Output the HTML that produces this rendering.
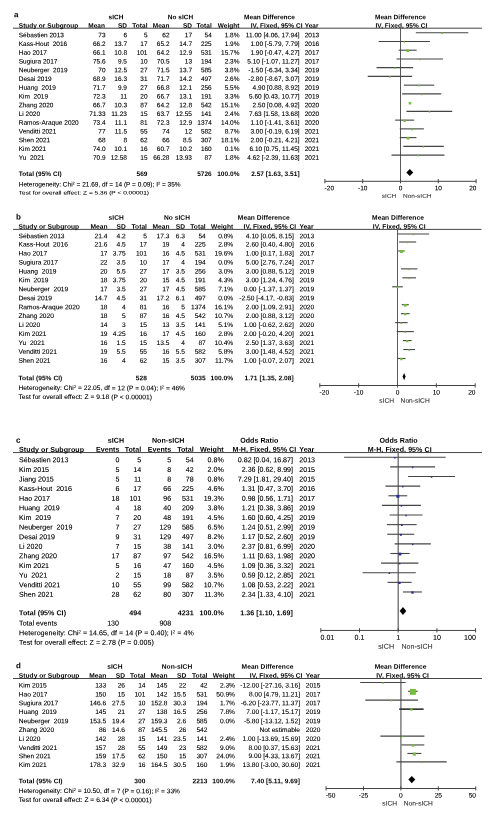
<!DOCTYPE html>
<html lang="en">
<head>
<meta charset="utf-8">
<title>Forest plots: sICH vs Non-sICH</title>
<style>
html,body{margin:0;padding:0;background:#fff;}
body{width:496px;height:824px;position:relative;overflow:hidden;font-family:"Liberation Sans",Arial,Helvetica,sans-serif;color:#000;}
#fig{position:absolute;left:0;top:0;width:496px;height:824px;overflow:hidden;}
#fig svg{position:absolute;left:0;top:0;}
.t{position:absolute;left:0;top:0;white-space:pre;line-height:10px;transform-origin:0 0;text-rendering:geometricPrecision;text-shadow:0 0 0.3px rgba(0,0,0,0.4);}
.b{font-weight:bold;text-shadow:none;letter-spacing:0.04px;}
.sup{font-size:60%;position:relative;top:-0.42em;line-height:1;}
</style>
</head>
<body>
<div id="fig">
<svg width="496" height="824" viewBox="0 0 496 824">
<line x1="13.00" y1="28.20" x2="482.00" y2="28.20" stroke="#3c3c3c" stroke-width="0.95"/>
<line x1="400.50" y1="28.20" x2="400.50" y2="181.30" stroke="#505050" stroke-width="0.95"/>
<line x1="324.90" y1="181.30" x2="476.10" y2="181.30" stroke="#444" stroke-width="1.00"/>
<line x1="324.90" y1="179.10" x2="324.90" y2="183.30" stroke="#444" stroke-width="1.00"/>
<line x1="362.70" y1="179.10" x2="362.70" y2="183.30" stroke="#444" stroke-width="1.00"/>
<line x1="400.50" y1="179.10" x2="400.50" y2="183.30" stroke="#444" stroke-width="1.00"/>
<line x1="438.30" y1="179.10" x2="438.30" y2="183.30" stroke="#444" stroke-width="1.00"/>
<line x1="476.10" y1="179.10" x2="476.10" y2="183.30" stroke="#444" stroke-width="1.00"/>
<line x1="415.85" y1="32.70" x2="468.31" y2="32.70" stroke="#444" stroke-width="1.10"/>
<rect x="441.35" y="32.52" width="1.45" height="1.45" fill="#76bd3a"/>
<line x1="378.61" y1="41.44" x2="429.95" y2="41.44" stroke="#444" stroke-width="1.10"/>
<rect x="403.55" y="41.27" width="1.45" height="1.45" fill="#76bd3a"/>
<line x1="398.72" y1="50.19" x2="416.64" y2="50.19" stroke="#444" stroke-width="1.10"/>
<rect x="406.39" y="49.45" width="2.58" height="2.58" fill="#76bd3a"/>
<line x1="396.46" y1="58.93" x2="443.10" y2="58.93" stroke="#444" stroke-width="1.10"/>
<rect x="419.05" y="58.75" width="1.45" height="1.45" fill="#76bd3a"/>
<line x1="376.53" y1="67.67" x2="413.13" y2="67.67" stroke="#444" stroke-width="1.10"/>
<rect x="394.10" y="67.50" width="1.45" height="1.45" fill="#76bd3a"/>
<line x1="367.73" y1="76.42" x2="412.10" y2="76.42" stroke="#444" stroke-width="1.10"/>
<rect x="389.19" y="76.24" width="1.45" height="1.45" fill="#76bd3a"/>
<line x1="403.83" y1="85.16" x2="434.22" y2="85.16" stroke="#444" stroke-width="1.10"/>
<rect x="418.26" y="84.95" width="1.52" height="1.52" fill="#76bd3a"/>
<line x1="402.13" y1="93.90" x2="441.21" y2="93.90" stroke="#444" stroke-width="1.10"/>
<rect x="420.94" y="93.73" width="1.45" height="1.45" fill="#76bd3a"/>
<rect x="408.69" y="101.93" width="2.53" height="2.53" fill="#76bd3a"/>
<line x1="406.47" y1="111.39" x2="452.21" y2="111.39" stroke="#444" stroke-width="1.10"/>
<rect x="428.62" y="111.21" width="1.45" height="1.45" fill="#76bd3a"/>
<line x1="395.17" y1="120.13" x2="414.15" y2="120.13" stroke="#444" stroke-width="1.10"/>
<rect x="403.44" y="119.46" width="2.43" height="2.43" fill="#76bd3a"/>
<line x1="399.78" y1="128.87" x2="423.90" y2="128.87" stroke="#444" stroke-width="1.10"/>
<rect x="410.88" y="128.46" width="1.92" height="1.92" fill="#76bd3a"/>
<line x1="399.71" y1="137.62" x2="416.41" y2="137.62" stroke="#444" stroke-width="1.10"/>
<rect x="406.68" y="136.78" width="2.77" height="2.77" fill="#76bd3a"/>
<line x1="403.33" y1="146.36" x2="443.78" y2="146.36" stroke="#444" stroke-width="1.10"/>
<rect x="422.83" y="146.18" width="1.45" height="1.45" fill="#76bd3a"/>
<line x1="391.47" y1="155.10" x2="444.46" y2="155.10" stroke="#444" stroke-width="1.10"/>
<rect x="417.24" y="154.93" width="1.45" height="1.45" fill="#76bd3a"/>
<polygon points="406.35,172.50 409.80,168.90 413.25,172.50 409.80,176.10" fill="#000"/>
<line x1="13.00" y1="229.40" x2="481.50" y2="229.40" stroke="#3c3c3c" stroke-width="0.95"/>
<line x1="397.50" y1="229.40" x2="397.50" y2="385.50" stroke="#484848" stroke-width="0.90"/>
<line x1="319.80" y1="385.50" x2="475.20" y2="385.50" stroke="#444" stroke-width="1.00"/>
<line x1="319.80" y1="383.30" x2="319.80" y2="387.50" stroke="#444" stroke-width="1.00"/>
<line x1="358.65" y1="383.30" x2="358.65" y2="387.50" stroke="#444" stroke-width="1.00"/>
<line x1="397.50" y1="383.30" x2="397.50" y2="387.50" stroke="#444" stroke-width="1.00"/>
<line x1="436.35" y1="383.30" x2="436.35" y2="387.50" stroke="#444" stroke-width="1.00"/>
<line x1="475.20" y1="383.30" x2="475.20" y2="387.50" stroke="#444" stroke-width="1.00"/>
<line x1="397.69" y1="234.00" x2="429.16" y2="234.00" stroke="#444" stroke-width="1.10"/>
<rect x="412.70" y="233.83" width="1.45" height="1.45" fill="#76bd3a"/>
<line x1="399.05" y1="242.00" x2="416.15" y2="242.00" stroke="#444" stroke-width="1.10"/>
<rect x="406.88" y="241.83" width="1.45" height="1.45" fill="#76bd3a"/>
<line x1="398.16" y1="250.96" x2="404.61" y2="250.96" stroke="#444" stroke-width="1.10"/>
<rect x="399.88" y="250.00" width="3.01" height="3.01" fill="#76bd3a"/>
<line x1="400.92" y1="268.88" x2="417.39" y2="268.88" stroke="#444" stroke-width="1.10"/>
<rect x="408.43" y="268.70" width="1.45" height="1.45" fill="#76bd3a"/>
<line x1="402.32" y1="277.84" x2="415.99" y2="277.84" stroke="#444" stroke-width="1.10"/>
<rect x="408.43" y="277.67" width="1.45" height="1.45" fill="#76bd3a"/>
<line x1="392.18" y1="286.80" x2="402.82" y2="286.80" stroke="#444" stroke-width="1.10"/>
<rect x="396.59" y="286.44" width="1.81" height="1.81" fill="#76bd3a"/>
<line x1="401.73" y1="304.72" x2="408.81" y2="304.72" stroke="#444" stroke-width="1.10"/>
<rect x="403.91" y="303.91" width="2.73" height="2.73" fill="#76bd3a"/>
<line x1="400.92" y1="313.68" x2="409.62" y2="313.68" stroke="#444" stroke-width="1.10"/>
<rect x="404.16" y="313.12" width="2.22" height="2.22" fill="#76bd3a"/>
<line x1="395.09" y1="322.64" x2="407.68" y2="322.64" stroke="#444" stroke-width="1.10"/>
<rect x="400.62" y="322.42" width="1.54" height="1.54" fill="#76bd3a"/>
<line x1="396.72" y1="331.60" x2="413.82" y2="331.60" stroke="#444" stroke-width="1.10"/>
<rect x="404.54" y="331.43" width="1.45" height="1.45" fill="#76bd3a"/>
<line x1="402.82" y1="340.56" x2="411.60" y2="340.56" stroke="#444" stroke-width="1.10"/>
<rect x="406.12" y="340.01" width="2.19" height="2.19" fill="#76bd3a"/>
<line x1="403.25" y1="349.52" x2="415.06" y2="349.52" stroke="#444" stroke-width="1.10"/>
<rect x="408.34" y="349.25" width="1.64" height="1.64" fill="#76bd3a"/>
<line x1="397.23" y1="358.48" x2="405.54" y2="358.48" stroke="#444" stroke-width="1.10"/>
<rect x="400.22" y="357.87" width="2.33" height="2.33" fill="#76bd3a"/>
<polygon points="402.60,376.60 404.10,372.90 405.60,376.60 404.10,380.30" fill="#000"/>
<line x1="13.00" y1="452.55" x2="482.00" y2="452.55" stroke="#3c3c3c" stroke-width="0.95"/>
<line x1="398.20" y1="452.55" x2="398.20" y2="630.45" stroke="#6a6a6a" stroke-width="1.30"/>
<line x1="320.80" y1="630.45" x2="475.60" y2="630.45" stroke="#444" stroke-width="1.00"/>
<line x1="320.80" y1="628.25" x2="320.80" y2="632.45" stroke="#444" stroke-width="1.00"/>
<line x1="359.50" y1="628.25" x2="359.50" y2="632.45" stroke="#444" stroke-width="1.00"/>
<line x1="398.20" y1="628.25" x2="398.20" y2="632.45" stroke="#444" stroke-width="1.00"/>
<line x1="436.90" y1="628.25" x2="436.90" y2="632.45" stroke="#444" stroke-width="1.00"/>
<line x1="475.60" y1="628.25" x2="475.60" y2="632.45" stroke="#444" stroke-width="1.00"/>
<line x1="344.10" y1="457.30" x2="445.69" y2="457.30" stroke="#444" stroke-width="1.10"/>
<rect x="394.14" y="457.12" width="1.45" height="1.45" fill="#2a2a9a"/>
<line x1="390.17" y1="466.92" x2="435.11" y2="466.92" stroke="#444" stroke-width="1.10"/>
<rect x="411.91" y="466.75" width="1.45" height="1.45" fill="#2a2a9a"/>
<line x1="408.17" y1="476.54" x2="455.03" y2="476.54" stroke="#444" stroke-width="1.10"/>
<rect x="430.86" y="476.37" width="1.45" height="1.45" fill="#2a2a9a"/>
<line x1="385.51" y1="486.16" x2="420.19" y2="486.16" stroke="#444" stroke-width="1.10"/>
<rect x="402.01" y="485.98" width="1.46" height="1.46" fill="#2a2a9a"/>
<line x1="388.45" y1="495.78" x2="407.22" y2="495.78" stroke="#444" stroke-width="1.10"/>
<rect x="396.37" y="494.84" width="2.99" height="2.99" fill="#2a2a9a"/>
<line x1="381.94" y1="505.40" x2="420.90" y2="505.40" stroke="#444" stroke-width="1.10"/>
<rect x="400.68" y="505.22" width="1.45" height="1.45" fill="#2a2a9a"/>
<line x1="389.61" y1="515.02" x2="422.52" y2="515.02" stroke="#444" stroke-width="1.10"/>
<rect x="405.37" y="514.84" width="1.45" height="1.45" fill="#2a2a9a"/>
<line x1="386.88" y1="524.64" x2="416.61" y2="524.64" stroke="#444" stroke-width="1.10"/>
<rect x="400.95" y="524.32" width="1.73" height="1.73" fill="#2a2a9a"/>
<line x1="387.21" y1="534.26" x2="414.26" y2="534.26" stroke="#444" stroke-width="1.10"/>
<rect x="399.87" y="533.84" width="1.95" height="1.95" fill="#2a2a9a"/>
<line x1="394.66" y1="543.88" x2="430.88" y2="543.88" stroke="#444" stroke-width="1.10"/>
<rect x="411.98" y="543.70" width="1.45" height="1.45" fill="#2a2a9a"/>
<line x1="390.43" y1="553.50" x2="409.68" y2="553.50" stroke="#444" stroke-width="1.10"/>
<rect x="398.57" y="552.67" width="2.76" height="2.76" fill="#2a2a9a"/>
<line x1="381.03" y1="563.12" x2="418.37" y2="563.12" stroke="#444" stroke-width="1.10"/>
<rect x="398.92" y="562.94" width="1.45" height="1.45" fill="#2a2a9a"/>
<line x1="362.56" y1="572.74" x2="415.80" y2="572.74" stroke="#444" stroke-width="1.10"/>
<rect x="388.61" y="572.56" width="1.45" height="1.45" fill="#2a2a9a"/>
<line x1="387.53" y1="582.36" x2="411.60" y2="582.36" stroke="#444" stroke-width="1.10"/>
<rect x="398.38" y="581.80" width="2.22" height="2.22" fill="#2a2a9a"/>
<line x1="402.99" y1="591.98" x2="421.91" y2="591.98" stroke="#444" stroke-width="1.10"/>
<rect x="411.35" y="591.39" width="2.29" height="2.29" fill="#2a2a9a"/>
<polygon points="399.65,611.00 402.95,607.00 406.25,611.00 402.95,615.00" fill="#000"/>
<line x1="13.00" y1="678.50" x2="482.00" y2="678.50" stroke="#3c3c3c" stroke-width="0.95"/>
<line x1="400.90" y1="678.50" x2="400.90" y2="788.50" stroke="#707070" stroke-width="1.35"/>
<line x1="326.05" y1="788.50" x2="475.75" y2="788.50" stroke="#444" stroke-width="1.00"/>
<line x1="326.05" y1="786.30" x2="326.05" y2="790.50" stroke="#444" stroke-width="1.00"/>
<line x1="363.47" y1="786.30" x2="363.47" y2="790.50" stroke="#444" stroke-width="1.00"/>
<line x1="400.90" y1="786.30" x2="400.90" y2="790.50" stroke="#444" stroke-width="1.00"/>
<line x1="438.32" y1="786.30" x2="438.32" y2="790.50" stroke="#444" stroke-width="1.00"/>
<line x1="475.75" y1="786.30" x2="475.75" y2="790.50" stroke="#444" stroke-width="1.00"/>
<line x1="360.24" y1="682.50" x2="405.63" y2="682.50" stroke="#444" stroke-width="1.10"/>
<rect x="382.21" y="682.32" width="1.45" height="1.45" fill="#76bd3a"/>
<line x1="408.07" y1="691.32" x2="417.68" y2="691.32" stroke="#444" stroke-width="1.10"/>
<rect x="409.92" y="688.91" width="5.92" height="5.92" fill="#76bd3a"/>
<line x1="365.32" y1="700.14" x2="417.92" y2="700.14" stroke="#444" stroke-width="1.10"/>
<rect x="390.89" y="699.96" width="1.45" height="1.45" fill="#76bd3a"/>
<line x1="399.15" y1="709.16" x2="423.61" y2="709.16" stroke="#3a3a3a" stroke-width="1.70"/>
<rect x="410.22" y="708.35" width="2.32" height="2.32" fill="#76bd3a"/>
<line x1="380.41" y1="736.12" x2="424.39" y2="736.12" stroke="#444" stroke-width="1.10"/>
<rect x="401.67" y="735.94" width="1.45" height="1.45" fill="#76bd3a"/>
<line x1="401.45" y1="744.94" x2="424.30" y2="744.94" stroke="#444" stroke-width="1.10"/>
<rect x="411.63" y="744.25" width="2.49" height="2.49" fill="#76bd3a"/>
<line x1="407.38" y1="753.46" x2="421.36" y2="753.46" stroke="#444" stroke-width="1.10"/>
<rect x="412.79" y="752.42" width="3.17" height="3.17" fill="#76bd3a"/>
<line x1="396.41" y1="761.88" x2="446.71" y2="761.88" stroke="#444" stroke-width="1.10"/>
<rect x="420.83" y="761.70" width="1.45" height="1.45" fill="#76bd3a"/>
<polygon points="408.35,779.60 411.80,776.00 415.25,779.60 411.80,783.20" fill="#000"/>
</svg>
<span class="t b" style="font-size:8px;transform:matrix(1,0.0005,0,1,14.00,10.27);">a</span>
<span class="t b" style="font-size:6.5px;transform:matrix(1,0.0005,0,1,116.00,13.17) translateX(-50%);">sICH</span>
<span class="t b" style="font-size:6.5px;transform:matrix(1,0.0005,0,1,180.50,13.17) translateX(-50%);">No sICH</span>
<span class="t b" style="font-size:6.5px;transform:matrix(1,0.0005,0,1,18.75,21.67);">Study or Subgroup</span>
<span class="t b" style="font-size:6.5px;transform:matrix(1,0.0005,0,1,105.00,21.67) translateX(-100%);">Mean</span>
<span class="t b" style="font-size:6.5px;transform:matrix(1,0.0005,0,1,127.00,21.67) translateX(-100%);">SD</span>
<span class="t b" style="font-size:6.5px;transform:matrix(1,0.0005,0,1,147.50,21.67) translateX(-100%);">Total</span>
<span class="t b" style="font-size:6.5px;transform:matrix(1,0.0005,0,1,169.50,21.67) translateX(-100%);">Mean</span>
<span class="t b" style="font-size:6.5px;transform:matrix(1,0.0005,0,1,192.00,21.67) translateX(-100%);">SD</span>
<span class="t b" style="font-size:6.5px;transform:matrix(1,0.0005,0,1,211.75,21.67) translateX(-100%);">Total</span>
<span class="t b" style="font-size:6.5px;transform:matrix(1,0.0005,0,1,239.50,21.67) translateX(-100%);">Weight</span>
<span class="t b" style="font-size:6.5px;transform:matrix(1,0.0005,0,1,302.50,21.67) translateX(-100%);">IV, Fixed, 95% CI</span>
<span class="t b" style="font-size:6.5px;transform:matrix(1,0.0005,0,1,304.70,21.67);">Year</span>
<span class="t b" style="font-size:6.5px;transform:matrix(1,0.0005,0,1,269.50,13.17) translateX(-50%);">Mean Difference</span>
<span class="t b" style="font-size:6.5px;transform:matrix(1,0.0005,0,1,400.40,13.17) translateX(-50%);">Mean Difference</span>
<span class="t b" style="font-size:6.5px;transform:matrix(1,0.0005,0,1,401.40,21.67) translateX(-50%);">IV, Fixed, 95% CI</span>
<span class="t" style="font-size:6.5px;transform:matrix(1,0.0005,0,1,18.75,31.17);">Sébastien 2013</span>
<span class="t" style="font-size:6.5px;transform:matrix(1,0.0005,0,1,105.60,31.17) translateX(-100%);">73</span>
<span class="t" style="font-size:6.5px;transform:matrix(1,0.0005,0,1,127.00,31.17) translateX(-100%);">6</span>
<span class="t" style="font-size:6.5px;transform:matrix(1,0.0005,0,1,147.50,31.17) translateX(-100%);">5</span>
<span class="t" style="font-size:6.5px;transform:matrix(1,0.0005,0,1,169.50,31.17) translateX(-100%);">62</span>
<span class="t" style="font-size:6.5px;transform:matrix(1,0.0005,0,1,192.00,31.17) translateX(-100%);">17</span>
<span class="t" style="font-size:6.5px;transform:matrix(1,0.0005,0,1,211.75,31.17) translateX(-100%);">54</span>
<span class="t" style="font-size:6.5px;transform:matrix(1,0.0005,0,1,239.50,31.17) translateX(-100%);">1.8%</span>
<span class="t" style="font-size:6.5px;transform:matrix(1,0.0005,0,1,299.60,31.17) translateX(-100%);">11.00 [4.06, 17.94]</span>
<span class="t" style="font-size:6.5px;transform:matrix(1,0.0005,0,1,304.70,31.17);">2013</span>
<span class="t" style="font-size:6.5px;transform:matrix(1,0.0005,0,1,18.75,39.92);">Kass-Hout  2016</span>
<span class="t" style="font-size:6.5px;transform:matrix(1,0.0005,0,1,105.60,39.92) translateX(-100%);">66.2</span>
<span class="t" style="font-size:6.5px;transform:matrix(1,0.0005,0,1,127.00,39.92) translateX(-100%);">13.7</span>
<span class="t" style="font-size:6.5px;transform:matrix(1,0.0005,0,1,147.50,39.92) translateX(-100%);">17</span>
<span class="t" style="font-size:6.5px;transform:matrix(1,0.0005,0,1,169.50,39.92) translateX(-100%);">65.2</span>
<span class="t" style="font-size:6.5px;transform:matrix(1,0.0005,0,1,192.00,39.92) translateX(-100%);">14.7</span>
<span class="t" style="font-size:6.5px;transform:matrix(1,0.0005,0,1,211.75,39.92) translateX(-100%);">225</span>
<span class="t" style="font-size:6.5px;transform:matrix(1,0.0005,0,1,239.50,39.92) translateX(-100%);">1.9%</span>
<span class="t" style="font-size:6.5px;transform:matrix(1,0.0005,0,1,299.60,39.92) translateX(-100%);">1.00 [-5.79, 7.79]</span>
<span class="t" style="font-size:6.5px;transform:matrix(1,0.0005,0,1,304.70,39.92);">2016</span>
<span class="t" style="font-size:6.5px;transform:matrix(1,0.0005,0,1,18.75,48.67);">Hao 2017</span>
<span class="t" style="font-size:6.5px;transform:matrix(1,0.0005,0,1,105.60,48.67) translateX(-100%);">66.1</span>
<span class="t" style="font-size:6.5px;transform:matrix(1,0.0005,0,1,127.00,48.67) translateX(-100%);">10.8</span>
<span class="t" style="font-size:6.5px;transform:matrix(1,0.0005,0,1,147.50,48.67) translateX(-100%);">101</span>
<span class="t" style="font-size:6.5px;transform:matrix(1,0.0005,0,1,169.50,48.67) translateX(-100%);">64.2</span>
<span class="t" style="font-size:6.5px;transform:matrix(1,0.0005,0,1,192.00,48.67) translateX(-100%);">12.9</span>
<span class="t" style="font-size:6.5px;transform:matrix(1,0.0005,0,1,211.75,48.67) translateX(-100%);">531</span>
<span class="t" style="font-size:6.5px;transform:matrix(1,0.0005,0,1,239.50,48.67) translateX(-100%);">15.7%</span>
<span class="t" style="font-size:6.5px;transform:matrix(1,0.0005,0,1,299.60,48.67) translateX(-100%);">1.90 [-0.47, 4.27]</span>
<span class="t" style="font-size:6.5px;transform:matrix(1,0.0005,0,1,304.70,48.67);">2017</span>
<span class="t" style="font-size:6.5px;transform:matrix(1,0.0005,0,1,18.75,57.42);">Sugiura 2017</span>
<span class="t" style="font-size:6.5px;transform:matrix(1,0.0005,0,1,105.60,57.42) translateX(-100%);">75.6</span>
<span class="t" style="font-size:6.5px;transform:matrix(1,0.0005,0,1,127.00,57.42) translateX(-100%);">9.5</span>
<span class="t" style="font-size:6.5px;transform:matrix(1,0.0005,0,1,147.50,57.42) translateX(-100%);">10</span>
<span class="t" style="font-size:6.5px;transform:matrix(1,0.0005,0,1,169.50,57.42) translateX(-100%);">70.5</span>
<span class="t" style="font-size:6.5px;transform:matrix(1,0.0005,0,1,192.00,57.42) translateX(-100%);">13</span>
<span class="t" style="font-size:6.5px;transform:matrix(1,0.0005,0,1,211.75,57.42) translateX(-100%);">194</span>
<span class="t" style="font-size:6.5px;transform:matrix(1,0.0005,0,1,239.50,57.42) translateX(-100%);">2.3%</span>
<span class="t" style="font-size:6.5px;transform:matrix(1,0.0005,0,1,299.60,57.42) translateX(-100%);">5.10 [-1.07, 11.27]</span>
<span class="t" style="font-size:6.5px;transform:matrix(1,0.0005,0,1,304.70,57.42);">2017</span>
<span class="t" style="font-size:6.5px;transform:matrix(1,0.0005,0,1,18.75,66.17);">Neuberger  2019</span>
<span class="t" style="font-size:6.5px;transform:matrix(1,0.0005,0,1,105.60,66.17) translateX(-100%);">70</span>
<span class="t" style="font-size:6.5px;transform:matrix(1,0.0005,0,1,127.00,66.17) translateX(-100%);">12.5</span>
<span class="t" style="font-size:6.5px;transform:matrix(1,0.0005,0,1,147.50,66.17) translateX(-100%);">27</span>
<span class="t" style="font-size:6.5px;transform:matrix(1,0.0005,0,1,169.50,66.17) translateX(-100%);">71.5</span>
<span class="t" style="font-size:6.5px;transform:matrix(1,0.0005,0,1,192.00,66.17) translateX(-100%);">13.7</span>
<span class="t" style="font-size:6.5px;transform:matrix(1,0.0005,0,1,211.75,66.17) translateX(-100%);">585</span>
<span class="t" style="font-size:6.5px;transform:matrix(1,0.0005,0,1,239.50,66.17) translateX(-100%);">3.8%</span>
<span class="t" style="font-size:6.5px;transform:matrix(1,0.0005,0,1,299.60,66.17) translateX(-100%);">-1.50 [-6.34, 3.34]</span>
<span class="t" style="font-size:6.5px;transform:matrix(1,0.0005,0,1,304.70,66.17);">2019</span>
<span class="t" style="font-size:6.5px;transform:matrix(1,0.0005,0,1,18.75,74.92);">Desai 2019</span>
<span class="t" style="font-size:6.5px;transform:matrix(1,0.0005,0,1,105.60,74.92) translateX(-100%);">68.9</span>
<span class="t" style="font-size:6.5px;transform:matrix(1,0.0005,0,1,127.00,74.92) translateX(-100%);">16.3</span>
<span class="t" style="font-size:6.5px;transform:matrix(1,0.0005,0,1,147.50,74.92) translateX(-100%);">31</span>
<span class="t" style="font-size:6.5px;transform:matrix(1,0.0005,0,1,169.50,74.92) translateX(-100%);">71.7</span>
<span class="t" style="font-size:6.5px;transform:matrix(1,0.0005,0,1,192.00,74.92) translateX(-100%);">14.2</span>
<span class="t" style="font-size:6.5px;transform:matrix(1,0.0005,0,1,211.75,74.92) translateX(-100%);">497</span>
<span class="t" style="font-size:6.5px;transform:matrix(1,0.0005,0,1,239.50,74.92) translateX(-100%);">2.6%</span>
<span class="t" style="font-size:6.5px;transform:matrix(1,0.0005,0,1,299.60,74.92) translateX(-100%);">-2.80 [-8.67, 3.07]</span>
<span class="t" style="font-size:6.5px;transform:matrix(1,0.0005,0,1,304.70,74.92);">2019</span>
<span class="t" style="font-size:6.5px;transform:matrix(1,0.0005,0,1,18.75,83.67);">Huang  2019</span>
<span class="t" style="font-size:6.5px;transform:matrix(1,0.0005,0,1,105.60,83.67) translateX(-100%);">71.7</span>
<span class="t" style="font-size:6.5px;transform:matrix(1,0.0005,0,1,127.00,83.67) translateX(-100%);">9.9</span>
<span class="t" style="font-size:6.5px;transform:matrix(1,0.0005,0,1,147.50,83.67) translateX(-100%);">27</span>
<span class="t" style="font-size:6.5px;transform:matrix(1,0.0005,0,1,169.50,83.67) translateX(-100%);">66.8</span>
<span class="t" style="font-size:6.5px;transform:matrix(1,0.0005,0,1,192.00,83.67) translateX(-100%);">12.1</span>
<span class="t" style="font-size:6.5px;transform:matrix(1,0.0005,0,1,211.75,83.67) translateX(-100%);">256</span>
<span class="t" style="font-size:6.5px;transform:matrix(1,0.0005,0,1,239.50,83.67) translateX(-100%);">5.5%</span>
<span class="t" style="font-size:6.5px;transform:matrix(1,0.0005,0,1,299.60,83.67) translateX(-100%);">4.90 [0.88, 8.92]</span>
<span class="t" style="font-size:6.5px;transform:matrix(1,0.0005,0,1,304.70,83.67);">2019</span>
<span class="t" style="font-size:6.5px;transform:matrix(1,0.0005,0,1,18.75,92.42);">Kim  2019</span>
<span class="t" style="font-size:6.5px;transform:matrix(1,0.0005,0,1,105.60,92.42) translateX(-100%);">72.3</span>
<span class="t" style="font-size:6.5px;transform:matrix(1,0.0005,0,1,127.00,92.42) translateX(-100%);">11</span>
<span class="t" style="font-size:6.5px;transform:matrix(1,0.0005,0,1,147.50,92.42) translateX(-100%);">20</span>
<span class="t" style="font-size:6.5px;transform:matrix(1,0.0005,0,1,169.50,92.42) translateX(-100%);">66.7</span>
<span class="t" style="font-size:6.5px;transform:matrix(1,0.0005,0,1,192.00,92.42) translateX(-100%);">13.1</span>
<span class="t" style="font-size:6.5px;transform:matrix(1,0.0005,0,1,211.75,92.42) translateX(-100%);">191</span>
<span class="t" style="font-size:6.5px;transform:matrix(1,0.0005,0,1,239.50,92.42) translateX(-100%);">3.3%</span>
<span class="t" style="font-size:6.5px;transform:matrix(1,0.0005,0,1,299.60,92.42) translateX(-100%);">5.60 [0.43, 10.77]</span>
<span class="t" style="font-size:6.5px;transform:matrix(1,0.0005,0,1,304.70,92.42);">2019</span>
<span class="t" style="font-size:6.5px;transform:matrix(1,0.0005,0,1,18.75,101.17);">Zhang 2020</span>
<span class="t" style="font-size:6.5px;transform:matrix(1,0.0005,0,1,105.60,101.17) translateX(-100%);">66.7</span>
<span class="t" style="font-size:6.5px;transform:matrix(1,0.0005,0,1,127.00,101.17) translateX(-100%);">10.3</span>
<span class="t" style="font-size:6.5px;transform:matrix(1,0.0005,0,1,147.50,101.17) translateX(-100%);">87</span>
<span class="t" style="font-size:6.5px;transform:matrix(1,0.0005,0,1,169.50,101.17) translateX(-100%);">64.2</span>
<span class="t" style="font-size:6.5px;transform:matrix(1,0.0005,0,1,192.00,101.17) translateX(-100%);">12.8</span>
<span class="t" style="font-size:6.5px;transform:matrix(1,0.0005,0,1,211.75,101.17) translateX(-100%);">542</span>
<span class="t" style="font-size:6.5px;transform:matrix(1,0.0005,0,1,239.50,101.17) translateX(-100%);">15.1%</span>
<span class="t" style="font-size:6.5px;transform:matrix(1,0.0005,0,1,299.60,101.17) translateX(-100%);">2.50 [0.08, 4.92]</span>
<span class="t" style="font-size:6.5px;transform:matrix(1,0.0005,0,1,304.70,101.17);">2020</span>
<span class="t" style="font-size:6.5px;transform:matrix(1,0.0005,0,1,18.75,109.92);">Li 2020</span>
<span class="t" style="font-size:6.5px;transform:matrix(1,0.0005,0,1,105.60,109.92) translateX(-100%);">71.33</span>
<span class="t" style="font-size:6.5px;transform:matrix(1,0.0005,0,1,127.00,109.92) translateX(-100%);">11.23</span>
<span class="t" style="font-size:6.5px;transform:matrix(1,0.0005,0,1,147.50,109.92) translateX(-100%);">15</span>
<span class="t" style="font-size:6.5px;transform:matrix(1,0.0005,0,1,169.50,109.92) translateX(-100%);">63.7</span>
<span class="t" style="font-size:6.5px;transform:matrix(1,0.0005,0,1,192.00,109.92) translateX(-100%);">12.55</span>
<span class="t" style="font-size:6.5px;transform:matrix(1,0.0005,0,1,211.75,109.92) translateX(-100%);">141</span>
<span class="t" style="font-size:6.5px;transform:matrix(1,0.0005,0,1,239.50,109.92) translateX(-100%);">2.4%</span>
<span class="t" style="font-size:6.5px;transform:matrix(1,0.0005,0,1,299.60,109.92) translateX(-100%);">7.63 [1.58, 13.68]</span>
<span class="t" style="font-size:6.5px;transform:matrix(1,0.0005,0,1,304.70,109.92);">2020</span>
<span class="t" style="font-size:6.5px;transform:matrix(1,0.0005,0,1,18.75,118.67);">Ramos-Araque 2020</span>
<span class="t" style="font-size:6.5px;transform:matrix(1,0.0005,0,1,105.60,118.67) translateX(-100%);">73.4</span>
<span class="t" style="font-size:6.5px;transform:matrix(1,0.0005,0,1,127.00,118.67) translateX(-100%);">11.1</span>
<span class="t" style="font-size:6.5px;transform:matrix(1,0.0005,0,1,147.50,118.67) translateX(-100%);">81</span>
<span class="t" style="font-size:6.5px;transform:matrix(1,0.0005,0,1,169.50,118.67) translateX(-100%);">72.3</span>
<span class="t" style="font-size:6.5px;transform:matrix(1,0.0005,0,1,192.00,118.67) translateX(-100%);">12.9</span>
<span class="t" style="font-size:6.5px;transform:matrix(1,0.0005,0,1,211.75,118.67) translateX(-100%);">1374</span>
<span class="t" style="font-size:6.5px;transform:matrix(1,0.0005,0,1,239.50,118.67) translateX(-100%);">14.0%</span>
<span class="t" style="font-size:6.5px;transform:matrix(1,0.0005,0,1,299.60,118.67) translateX(-100%);">1.10 [-1.41, 3.61]</span>
<span class="t" style="font-size:6.5px;transform:matrix(1,0.0005,0,1,304.70,118.67);">2020</span>
<span class="t" style="font-size:6.5px;transform:matrix(1,0.0005,0,1,18.75,127.42);">Venditti 2021</span>
<span class="t" style="font-size:6.5px;transform:matrix(1,0.0005,0,1,105.60,127.42) translateX(-100%);">77</span>
<span class="t" style="font-size:6.5px;transform:matrix(1,0.0005,0,1,127.00,127.42) translateX(-100%);">11.5</span>
<span class="t" style="font-size:6.5px;transform:matrix(1,0.0005,0,1,147.50,127.42) translateX(-100%);">55</span>
<span class="t" style="font-size:6.5px;transform:matrix(1,0.0005,0,1,169.50,127.42) translateX(-100%);">74</span>
<span class="t" style="font-size:6.5px;transform:matrix(1,0.0005,0,1,192.00,127.42) translateX(-100%);">12</span>
<span class="t" style="font-size:6.5px;transform:matrix(1,0.0005,0,1,211.75,127.42) translateX(-100%);">582</span>
<span class="t" style="font-size:6.5px;transform:matrix(1,0.0005,0,1,239.50,127.42) translateX(-100%);">8.7%</span>
<span class="t" style="font-size:6.5px;transform:matrix(1,0.0005,0,1,299.60,127.42) translateX(-100%);">3.00 [-0.19, 6.19]</span>
<span class="t" style="font-size:6.5px;transform:matrix(1,0.0005,0,1,304.70,127.42);">2021</span>
<span class="t" style="font-size:6.5px;transform:matrix(1,0.0005,0,1,18.75,136.17);">Shen 2021</span>
<span class="t" style="font-size:6.5px;transform:matrix(1,0.0005,0,1,105.60,136.17) translateX(-100%);">68</span>
<span class="t" style="font-size:6.5px;transform:matrix(1,0.0005,0,1,127.00,136.17) translateX(-100%);">8</span>
<span class="t" style="font-size:6.5px;transform:matrix(1,0.0005,0,1,147.50,136.17) translateX(-100%);">62</span>
<span class="t" style="font-size:6.5px;transform:matrix(1,0.0005,0,1,169.50,136.17) translateX(-100%);">66</span>
<span class="t" style="font-size:6.5px;transform:matrix(1,0.0005,0,1,192.00,136.17) translateX(-100%);">8.5</span>
<span class="t" style="font-size:6.5px;transform:matrix(1,0.0005,0,1,211.75,136.17) translateX(-100%);">307</span>
<span class="t" style="font-size:6.5px;transform:matrix(1,0.0005,0,1,239.50,136.17) translateX(-100%);">18.1%</span>
<span class="t" style="font-size:6.5px;transform:matrix(1,0.0005,0,1,299.60,136.17) translateX(-100%);">2.00 [-0.21, 4.21]</span>
<span class="t" style="font-size:6.5px;transform:matrix(1,0.0005,0,1,304.70,136.17);">2021</span>
<span class="t" style="font-size:6.5px;transform:matrix(1,0.0005,0,1,18.75,144.92);">Kim 2021</span>
<span class="t" style="font-size:6.5px;transform:matrix(1,0.0005,0,1,105.60,144.92) translateX(-100%);">74.0</span>
<span class="t" style="font-size:6.5px;transform:matrix(1,0.0005,0,1,127.00,144.92) translateX(-100%);">10.1</span>
<span class="t" style="font-size:6.5px;transform:matrix(1,0.0005,0,1,147.50,144.92) translateX(-100%);">16</span>
<span class="t" style="font-size:6.5px;transform:matrix(1,0.0005,0,1,169.50,144.92) translateX(-100%);">60.7</span>
<span class="t" style="font-size:6.5px;transform:matrix(1,0.0005,0,1,192.00,144.92) translateX(-100%);">10.2</span>
<span class="t" style="font-size:6.5px;transform:matrix(1,0.0005,0,1,211.75,144.92) translateX(-100%);">160</span>
<span class="t" style="font-size:6.5px;transform:matrix(1,0.0005,0,1,239.50,144.92) translateX(-100%);">0.1%</span>
<span class="t" style="font-size:6.5px;transform:matrix(1,0.0005,0,1,299.60,144.92) translateX(-100%);">6.10 [0.75, 11.45]</span>
<span class="t" style="font-size:6.5px;transform:matrix(1,0.0005,0,1,304.70,144.92);">2021</span>
<span class="t" style="font-size:6.5px;transform:matrix(1,0.0005,0,1,18.75,153.67);">Yu  2021</span>
<span class="t" style="font-size:6.5px;transform:matrix(1,0.0005,0,1,105.60,153.67) translateX(-100%);">70.9</span>
<span class="t" style="font-size:6.5px;transform:matrix(1,0.0005,0,1,127.00,153.67) translateX(-100%);">12.58</span>
<span class="t" style="font-size:6.5px;transform:matrix(1,0.0005,0,1,147.50,153.67) translateX(-100%);">15</span>
<span class="t" style="font-size:6.5px;transform:matrix(1,0.0005,0,1,169.50,153.67) translateX(-100%);">66.28</span>
<span class="t" style="font-size:6.5px;transform:matrix(1,0.0005,0,1,192.00,153.67) translateX(-100%);">13.93</span>
<span class="t" style="font-size:6.5px;transform:matrix(1,0.0005,0,1,211.75,153.67) translateX(-100%);">87</span>
<span class="t" style="font-size:6.5px;transform:matrix(1,0.0005,0,1,239.50,153.67) translateX(-100%);">1.8%</span>
<span class="t" style="font-size:6.5px;transform:matrix(1,0.0005,0,1,299.60,153.67) translateX(-100%);">4.62 [-2.39, 11.63]</span>
<span class="t" style="font-size:6.5px;transform:matrix(1,0.0005,0,1,304.70,153.67);">2021</span>
<span class="t b" style="font-size:6.5px;transform:matrix(1,0.0005,0,1,18.75,169.92);">Total (95% CI)</span>
<span class="t b" style="font-size:6.5px;transform:matrix(1,0.0005,0,1,147.50,169.92) translateX(-100%);">569</span>
<span class="t b" style="font-size:6.5px;transform:matrix(1,0.0005,0,1,211.75,169.92) translateX(-100%);">5726</span>
<span class="t b" style="font-size:6.5px;transform:matrix(1,0.0005,0,1,239.50,169.92) translateX(-100%);">100.0%</span>
<span class="t b" style="font-size:6.5px;transform:matrix(1,0.0005,0,1,299.60,169.92) translateX(-100%);">2.57 [1.63, 3.51]</span>
<span class="t" style="font-size:6.5px;transform:matrix(1,0.0005,0,1,18.75,180.42);">Heterogeneity: Chi<span class="sup">2</span> = 21.69, df = 14 (P = 0.09); I<span class="sup">2</span> = 35%</span>
<span class="t" style="font-size:6.5px;transform:matrix(1,0.0005,0,0.8,18.75,189.64);"><span style="letter-spacing:0.033px">Test for overall effect: Z = 5.36 (P &lt; 0.00001)</span></span>
<span class="t" style="font-size:6.5px;transform:matrix(1,0.0005,0,1,324.60,184.17);">-20</span>
<span class="t" style="font-size:6.5px;transform:matrix(1,0.0005,0,1,362.70,184.17) translateX(-50%);">-10</span>
<span class="t" style="font-size:6.5px;transform:matrix(1,0.0005,0,1,400.50,184.17) translateX(-50%);">0</span>
<span class="t" style="font-size:6.5px;transform:matrix(1,0.0005,0,1,438.30,184.17) translateX(-50%);">10</span>
<span class="t" style="font-size:6.5px;transform:matrix(1,0.0005,0,1,476.40,184.17) translateX(-100%);">20</span>
<span class="t" style="font-size:6.5px;transform:matrix(1,0.0005,0,0.85,396.30,192.64) translateX(-100%);color:#444;">sICH</span>
<span class="t" style="font-size:6.5px;transform:matrix(1,0.0005,0,0.85,403.00,192.64);color:#444;">Non-sICH</span>
<span class="t b" style="font-size:8px;transform:matrix(1,0.0005,0,1,16.00,212.47);">b</span>
<span class="t b" style="font-size:6.63px;transform:matrix(1,0.0005,0,1,116.25,213.78) translateX(-50%);">sICH</span>
<span class="t b" style="font-size:6.63px;transform:matrix(1,0.0005,0,1,177.00,213.78) translateX(-50%);">No sICH</span>
<span class="t b" style="font-size:6.63px;transform:matrix(1,0.0005,0,1,18.50,222.68);">Study or Subgroup</span>
<span class="t b" style="font-size:6.63px;transform:matrix(1,0.0005,0,1,107.50,222.68) translateX(-100%);">Mean</span>
<span class="t b" style="font-size:6.63px;transform:matrix(1,0.0005,0,1,125.75,222.68) translateX(-100%);">SD</span>
<span class="t b" style="font-size:6.63px;transform:matrix(1,0.0005,0,1,147.00,222.68) translateX(-100%);">Total</span>
<span class="t b" style="font-size:6.63px;transform:matrix(1,0.0005,0,1,169.50,222.68) translateX(-100%);">Mean</span>
<span class="t b" style="font-size:6.63px;transform:matrix(1,0.0005,0,1,185.00,222.68) translateX(-100%);">SD</span>
<span class="t b" style="font-size:6.63px;transform:matrix(1,0.0005,0,1,205.75,222.68) translateX(-100%);">Total</span>
<span class="t b" style="font-size:6.63px;transform:matrix(1,0.0005,0,1,233.25,222.68) translateX(-100%);">Weight</span>
<span class="t b" style="font-size:6.63px;transform:matrix(1,0.0005,0,1,296.25,222.68) translateX(-100%);">IV, Fixed, 95% CI</span>
<span class="t b" style="font-size:6.63px;transform:matrix(1,0.0005,0,1,299.50,222.68);">Year</span>
<span class="t b" style="font-size:6.63px;transform:matrix(1,0.0005,0,1,263.75,213.78) translateX(-50%);">Mean Difference</span>
<span class="t b" style="font-size:6.63px;transform:matrix(1,0.0005,0,1,398.00,213.78) translateX(-50%);">Mean Difference</span>
<span class="t b" style="font-size:6.63px;transform:matrix(1,0.0005,0,1,399.20,222.68) translateX(-50%);">IV, Fixed, 95% CI</span>
<span class="t" style="font-size:6.63px;transform:matrix(1,0.0005,0,1,18.50,232.33);">Sébastien 2013</span>
<span class="t" style="font-size:6.63px;transform:matrix(1,0.0005,0,1,107.50,232.33) translateX(-100%);">21.4</span>
<span class="t" style="font-size:6.63px;transform:matrix(1,0.0005,0,1,125.75,232.33) translateX(-100%);">4.2</span>
<span class="t" style="font-size:6.63px;transform:matrix(1,0.0005,0,1,147.00,232.33) translateX(-100%);">5</span>
<span class="t" style="font-size:6.63px;transform:matrix(1,0.0005,0,1,169.50,232.33) translateX(-100%);">17.3</span>
<span class="t" style="font-size:6.63px;transform:matrix(1,0.0005,0,1,185.00,232.33) translateX(-100%);">6.3</span>
<span class="t" style="font-size:6.63px;transform:matrix(1,0.0005,0,1,205.75,232.33) translateX(-100%);">54</span>
<span class="t" style="font-size:6.63px;transform:matrix(1,0.0005,0,1,233.25,232.33) translateX(-100%);">0.8%</span>
<span class="t" style="font-size:6.63px;transform:matrix(1,0.0005,0,1,293.75,232.33) translateX(-100%);">4.10 [0.05, 8.15]</span>
<span class="t" style="font-size:6.63px;transform:matrix(1,0.0005,0,1,299.50,232.33);">2013</span>
<span class="t" style="font-size:6.63px;transform:matrix(1,0.0005,0,1,18.50,240.58);">Kass-Hout  2016</span>
<span class="t" style="font-size:6.63px;transform:matrix(1,0.0005,0,1,107.50,240.58) translateX(-100%);">21.6</span>
<span class="t" style="font-size:6.63px;transform:matrix(1,0.0005,0,1,125.75,240.58) translateX(-100%);">4.5</span>
<span class="t" style="font-size:6.63px;transform:matrix(1,0.0005,0,1,147.00,240.58) translateX(-100%);">17</span>
<span class="t" style="font-size:6.63px;transform:matrix(1,0.0005,0,1,169.50,240.58) translateX(-100%);">19</span>
<span class="t" style="font-size:6.63px;transform:matrix(1,0.0005,0,1,185.00,240.58) translateX(-100%);">4</span>
<span class="t" style="font-size:6.63px;transform:matrix(1,0.0005,0,1,205.75,240.58) translateX(-100%);">225</span>
<span class="t" style="font-size:6.63px;transform:matrix(1,0.0005,0,1,233.25,240.58) translateX(-100%);">2.8%</span>
<span class="t" style="font-size:6.63px;transform:matrix(1,0.0005,0,1,293.75,240.58) translateX(-100%);">2.60 [0.40, 4.80]</span>
<span class="t" style="font-size:6.63px;transform:matrix(1,0.0005,0,1,299.50,240.58);">2016</span>
<span class="t" style="font-size:6.63px;transform:matrix(1,0.0005,0,1,18.50,249.52);">Hao 2017</span>
<span class="t" style="font-size:6.63px;transform:matrix(1,0.0005,0,1,107.50,249.52) translateX(-100%);">17</span>
<span class="t" style="font-size:6.63px;transform:matrix(1,0.0005,0,1,125.75,249.52) translateX(-100%);">3.75</span>
<span class="t" style="font-size:6.63px;transform:matrix(1,0.0005,0,1,147.00,249.52) translateX(-100%);">101</span>
<span class="t" style="font-size:6.63px;transform:matrix(1,0.0005,0,1,169.50,249.52) translateX(-100%);">16</span>
<span class="t" style="font-size:6.63px;transform:matrix(1,0.0005,0,1,185.00,249.52) translateX(-100%);">4.5</span>
<span class="t" style="font-size:6.63px;transform:matrix(1,0.0005,0,1,205.75,249.52) translateX(-100%);">531</span>
<span class="t" style="font-size:6.63px;transform:matrix(1,0.0005,0,1,233.25,249.52) translateX(-100%);">19.6%</span>
<span class="t" style="font-size:6.63px;transform:matrix(1,0.0005,0,1,293.75,249.52) translateX(-100%);">1.00 [0.17, 1.83]</span>
<span class="t" style="font-size:6.63px;transform:matrix(1,0.0005,0,1,299.50,249.52);">2017</span>
<span class="t" style="font-size:6.63px;transform:matrix(1,0.0005,0,1,18.50,258.46);">Sugiura 2017</span>
<span class="t" style="font-size:6.63px;transform:matrix(1,0.0005,0,1,107.50,258.46) translateX(-100%);">22</span>
<span class="t" style="font-size:6.63px;transform:matrix(1,0.0005,0,1,125.75,258.46) translateX(-100%);">3.5</span>
<span class="t" style="font-size:6.63px;transform:matrix(1,0.0005,0,1,147.00,258.46) translateX(-100%);">10</span>
<span class="t" style="font-size:6.63px;transform:matrix(1,0.0005,0,1,169.50,258.46) translateX(-100%);">17</span>
<span class="t" style="font-size:6.63px;transform:matrix(1,0.0005,0,1,185.00,258.46) translateX(-100%);">4</span>
<span class="t" style="font-size:6.63px;transform:matrix(1,0.0005,0,1,205.75,258.46) translateX(-100%);">194</span>
<span class="t" style="font-size:6.63px;transform:matrix(1,0.0005,0,1,233.25,258.46) translateX(-100%);">0.0%</span>
<span class="t" style="font-size:6.63px;transform:matrix(1,0.0005,0,1,293.75,258.46) translateX(-100%);">5.00 [2.76, 7.24]</span>
<span class="t" style="font-size:6.63px;transform:matrix(1,0.0005,0,1,299.50,258.46);">2017</span>
<span class="t" style="font-size:6.63px;transform:matrix(1,0.0005,0,1,18.50,267.40);">Huang  2019</span>
<span class="t" style="font-size:6.63px;transform:matrix(1,0.0005,0,1,107.50,267.40) translateX(-100%);">20</span>
<span class="t" style="font-size:6.63px;transform:matrix(1,0.0005,0,1,125.75,267.40) translateX(-100%);">5.5</span>
<span class="t" style="font-size:6.63px;transform:matrix(1,0.0005,0,1,147.00,267.40) translateX(-100%);">27</span>
<span class="t" style="font-size:6.63px;transform:matrix(1,0.0005,0,1,169.50,267.40) translateX(-100%);">17</span>
<span class="t" style="font-size:6.63px;transform:matrix(1,0.0005,0,1,185.00,267.40) translateX(-100%);">3.5</span>
<span class="t" style="font-size:6.63px;transform:matrix(1,0.0005,0,1,205.75,267.40) translateX(-100%);">256</span>
<span class="t" style="font-size:6.63px;transform:matrix(1,0.0005,0,1,233.25,267.40) translateX(-100%);">3.0%</span>
<span class="t" style="font-size:6.63px;transform:matrix(1,0.0005,0,1,293.75,267.40) translateX(-100%);">3.00 [0.88, 5.12]</span>
<span class="t" style="font-size:6.63px;transform:matrix(1,0.0005,0,1,299.50,267.40);">2019</span>
<span class="t" style="font-size:6.63px;transform:matrix(1,0.0005,0,1,18.50,276.34);">Kim  2019</span>
<span class="t" style="font-size:6.63px;transform:matrix(1,0.0005,0,1,107.50,276.34) translateX(-100%);">18</span>
<span class="t" style="font-size:6.63px;transform:matrix(1,0.0005,0,1,125.75,276.34) translateX(-100%);">3.75</span>
<span class="t" style="font-size:6.63px;transform:matrix(1,0.0005,0,1,147.00,276.34) translateX(-100%);">20</span>
<span class="t" style="font-size:6.63px;transform:matrix(1,0.0005,0,1,169.50,276.34) translateX(-100%);">15</span>
<span class="t" style="font-size:6.63px;transform:matrix(1,0.0005,0,1,185.00,276.34) translateX(-100%);">4.5</span>
<span class="t" style="font-size:6.63px;transform:matrix(1,0.0005,0,1,205.75,276.34) translateX(-100%);">191</span>
<span class="t" style="font-size:6.63px;transform:matrix(1,0.0005,0,1,233.25,276.34) translateX(-100%);">4.3%</span>
<span class="t" style="font-size:6.63px;transform:matrix(1,0.0005,0,1,293.75,276.34) translateX(-100%);">3.00 [1.24, 4.76]</span>
<span class="t" style="font-size:6.63px;transform:matrix(1,0.0005,0,1,299.50,276.34);">2019</span>
<span class="t" style="font-size:6.63px;transform:matrix(1,0.0005,0,1,18.50,285.28);">Neuberger  2019</span>
<span class="t" style="font-size:6.63px;transform:matrix(1,0.0005,0,1,107.50,285.28) translateX(-100%);">17</span>
<span class="t" style="font-size:6.63px;transform:matrix(1,0.0005,0,1,125.75,285.28) translateX(-100%);">3.5</span>
<span class="t" style="font-size:6.63px;transform:matrix(1,0.0005,0,1,147.00,285.28) translateX(-100%);">27</span>
<span class="t" style="font-size:6.63px;transform:matrix(1,0.0005,0,1,169.50,285.28) translateX(-100%);">17</span>
<span class="t" style="font-size:6.63px;transform:matrix(1,0.0005,0,1,185.00,285.28) translateX(-100%);">4.5</span>
<span class="t" style="font-size:6.63px;transform:matrix(1,0.0005,0,1,205.75,285.28) translateX(-100%);">585</span>
<span class="t" style="font-size:6.63px;transform:matrix(1,0.0005,0,1,233.25,285.28) translateX(-100%);">7.1%</span>
<span class="t" style="font-size:6.63px;transform:matrix(1,0.0005,0,1,293.75,285.28) translateX(-100%);">0.00 [-1.37, 1.37]</span>
<span class="t" style="font-size:6.63px;transform:matrix(1,0.0005,0,1,299.50,285.28);">2019</span>
<span class="t" style="font-size:6.63px;transform:matrix(1,0.0005,0,1,18.50,294.22);">Desai 2019</span>
<span class="t" style="font-size:6.63px;transform:matrix(1,0.0005,0,1,107.50,294.22) translateX(-100%);">14.7</span>
<span class="t" style="font-size:6.63px;transform:matrix(1,0.0005,0,1,125.75,294.22) translateX(-100%);">4.5</span>
<span class="t" style="font-size:6.63px;transform:matrix(1,0.0005,0,1,147.00,294.22) translateX(-100%);">31</span>
<span class="t" style="font-size:6.63px;transform:matrix(1,0.0005,0,1,169.50,294.22) translateX(-100%);">17.2</span>
<span class="t" style="font-size:6.63px;transform:matrix(1,0.0005,0,1,185.00,294.22) translateX(-100%);">6.1</span>
<span class="t" style="font-size:6.63px;transform:matrix(1,0.0005,0,1,205.75,294.22) translateX(-100%);">497</span>
<span class="t" style="font-size:6.63px;transform:matrix(1,0.0005,0,1,233.25,294.22) translateX(-100%);">0.0%</span>
<span class="t" style="font-size:6.63px;transform:matrix(1,0.0005,0,1,293.75,294.22) translateX(-100%);">-2.50 [-4.17, -0.83]</span>
<span class="t" style="font-size:6.63px;transform:matrix(1,0.0005,0,1,299.50,294.22);">2019</span>
<span class="t" style="font-size:6.63px;transform:matrix(1,0.0005,0,1,18.50,303.16);">Ramos-Araque 2020</span>
<span class="t" style="font-size:6.63px;transform:matrix(1,0.0005,0,1,107.50,303.16) translateX(-100%);">18</span>
<span class="t" style="font-size:6.63px;transform:matrix(1,0.0005,0,1,125.75,303.16) translateX(-100%);">4</span>
<span class="t" style="font-size:6.63px;transform:matrix(1,0.0005,0,1,147.00,303.16) translateX(-100%);">81</span>
<span class="t" style="font-size:6.63px;transform:matrix(1,0.0005,0,1,169.50,303.16) translateX(-100%);">16</span>
<span class="t" style="font-size:6.63px;transform:matrix(1,0.0005,0,1,185.00,303.16) translateX(-100%);">5</span>
<span class="t" style="font-size:6.63px;transform:matrix(1,0.0005,0,1,205.75,303.16) translateX(-100%);">1374</span>
<span class="t" style="font-size:6.63px;transform:matrix(1,0.0005,0,1,233.25,303.16) translateX(-100%);">16.1%</span>
<span class="t" style="font-size:6.63px;transform:matrix(1,0.0005,0,1,293.75,303.16) translateX(-100%);">2.00 [1.09, 2.91]</span>
<span class="t" style="font-size:6.63px;transform:matrix(1,0.0005,0,1,299.50,303.16);">2020</span>
<span class="t" style="font-size:6.63px;transform:matrix(1,0.0005,0,1,18.50,312.10);">Zhang 2020</span>
<span class="t" style="font-size:6.63px;transform:matrix(1,0.0005,0,1,107.50,312.10) translateX(-100%);">18</span>
<span class="t" style="font-size:6.63px;transform:matrix(1,0.0005,0,1,125.75,312.10) translateX(-100%);">5</span>
<span class="t" style="font-size:6.63px;transform:matrix(1,0.0005,0,1,147.00,312.10) translateX(-100%);">87</span>
<span class="t" style="font-size:6.63px;transform:matrix(1,0.0005,0,1,169.50,312.10) translateX(-100%);">16</span>
<span class="t" style="font-size:6.63px;transform:matrix(1,0.0005,0,1,185.00,312.10) translateX(-100%);">4.5</span>
<span class="t" style="font-size:6.63px;transform:matrix(1,0.0005,0,1,205.75,312.10) translateX(-100%);">542</span>
<span class="t" style="font-size:6.63px;transform:matrix(1,0.0005,0,1,233.25,312.10) translateX(-100%);">10.7%</span>
<span class="t" style="font-size:6.63px;transform:matrix(1,0.0005,0,1,293.75,312.10) translateX(-100%);">2.00 [0.88, 3.12]</span>
<span class="t" style="font-size:6.63px;transform:matrix(1,0.0005,0,1,299.50,312.10);">2020</span>
<span class="t" style="font-size:6.63px;transform:matrix(1,0.0005,0,1,18.50,321.04);">Li 2020</span>
<span class="t" style="font-size:6.63px;transform:matrix(1,0.0005,0,1,107.50,321.04) translateX(-100%);">14</span>
<span class="t" style="font-size:6.63px;transform:matrix(1,0.0005,0,1,125.75,321.04) translateX(-100%);">3</span>
<span class="t" style="font-size:6.63px;transform:matrix(1,0.0005,0,1,147.00,321.04) translateX(-100%);">15</span>
<span class="t" style="font-size:6.63px;transform:matrix(1,0.0005,0,1,169.50,321.04) translateX(-100%);">13</span>
<span class="t" style="font-size:6.63px;transform:matrix(1,0.0005,0,1,185.00,321.04) translateX(-100%);">3.5</span>
<span class="t" style="font-size:6.63px;transform:matrix(1,0.0005,0,1,205.75,321.04) translateX(-100%);">141</span>
<span class="t" style="font-size:6.63px;transform:matrix(1,0.0005,0,1,233.25,321.04) translateX(-100%);">5.1%</span>
<span class="t" style="font-size:6.63px;transform:matrix(1,0.0005,0,1,293.75,321.04) translateX(-100%);">1.00 [-0.62, 2.62]</span>
<span class="t" style="font-size:6.63px;transform:matrix(1,0.0005,0,1,299.50,321.04);">2020</span>
<span class="t" style="font-size:6.63px;transform:matrix(1,0.0005,0,1,18.50,329.98);">Kim 2021</span>
<span class="t" style="font-size:6.63px;transform:matrix(1,0.0005,0,1,107.50,329.98) translateX(-100%);">19</span>
<span class="t" style="font-size:6.63px;transform:matrix(1,0.0005,0,1,125.75,329.98) translateX(-100%);">4.25</span>
<span class="t" style="font-size:6.63px;transform:matrix(1,0.0005,0,1,147.00,329.98) translateX(-100%);">16</span>
<span class="t" style="font-size:6.63px;transform:matrix(1,0.0005,0,1,169.50,329.98) translateX(-100%);">17</span>
<span class="t" style="font-size:6.63px;transform:matrix(1,0.0005,0,1,185.00,329.98) translateX(-100%);">4.5</span>
<span class="t" style="font-size:6.63px;transform:matrix(1,0.0005,0,1,205.75,329.98) translateX(-100%);">160</span>
<span class="t" style="font-size:6.63px;transform:matrix(1,0.0005,0,1,233.25,329.98) translateX(-100%);">2.8%</span>
<span class="t" style="font-size:6.63px;transform:matrix(1,0.0005,0,1,293.75,329.98) translateX(-100%);">2.00 [-0.20, 4.20]</span>
<span class="t" style="font-size:6.63px;transform:matrix(1,0.0005,0,1,299.50,329.98);">2021</span>
<span class="t" style="font-size:6.63px;transform:matrix(1,0.0005,0,1,18.50,338.92);">Yu  2021</span>
<span class="t" style="font-size:6.63px;transform:matrix(1,0.0005,0,1,107.50,338.92) translateX(-100%);">16</span>
<span class="t" style="font-size:6.63px;transform:matrix(1,0.0005,0,1,125.75,338.92) translateX(-100%);">1.5</span>
<span class="t" style="font-size:6.63px;transform:matrix(1,0.0005,0,1,147.00,338.92) translateX(-100%);">15</span>
<span class="t" style="font-size:6.63px;transform:matrix(1,0.0005,0,1,169.50,338.92) translateX(-100%);">13.5</span>
<span class="t" style="font-size:6.63px;transform:matrix(1,0.0005,0,1,185.00,338.92) translateX(-100%);">4</span>
<span class="t" style="font-size:6.63px;transform:matrix(1,0.0005,0,1,205.75,338.92) translateX(-100%);">87</span>
<span class="t" style="font-size:6.63px;transform:matrix(1,0.0005,0,1,233.25,338.92) translateX(-100%);">10.4%</span>
<span class="t" style="font-size:6.63px;transform:matrix(1,0.0005,0,1,293.75,338.92) translateX(-100%);">2.50 [1.37, 3.63]</span>
<span class="t" style="font-size:6.63px;transform:matrix(1,0.0005,0,1,299.50,338.92);">2021</span>
<span class="t" style="font-size:6.63px;transform:matrix(1,0.0005,0,1,18.50,347.86);">Venditti 2021</span>
<span class="t" style="font-size:6.63px;transform:matrix(1,0.0005,0,1,107.50,347.86) translateX(-100%);">19</span>
<span class="t" style="font-size:6.63px;transform:matrix(1,0.0005,0,1,125.75,347.86) translateX(-100%);">5.5</span>
<span class="t" style="font-size:6.63px;transform:matrix(1,0.0005,0,1,147.00,347.86) translateX(-100%);">55</span>
<span class="t" style="font-size:6.63px;transform:matrix(1,0.0005,0,1,169.50,347.86) translateX(-100%);">16</span>
<span class="t" style="font-size:6.63px;transform:matrix(1,0.0005,0,1,185.00,347.86) translateX(-100%);">5.5</span>
<span class="t" style="font-size:6.63px;transform:matrix(1,0.0005,0,1,205.75,347.86) translateX(-100%);">582</span>
<span class="t" style="font-size:6.63px;transform:matrix(1,0.0005,0,1,233.25,347.86) translateX(-100%);">5.8%</span>
<span class="t" style="font-size:6.63px;transform:matrix(1,0.0005,0,1,293.75,347.86) translateX(-100%);">3.00 [1.48, 4.52]</span>
<span class="t" style="font-size:6.63px;transform:matrix(1,0.0005,0,1,299.50,347.86);">2021</span>
<span class="t" style="font-size:6.63px;transform:matrix(1,0.0005,0,1,18.50,356.80);">Shen 2021</span>
<span class="t" style="font-size:6.63px;transform:matrix(1,0.0005,0,1,107.50,356.80) translateX(-100%);">16</span>
<span class="t" style="font-size:6.63px;transform:matrix(1,0.0005,0,1,125.75,356.80) translateX(-100%);">4</span>
<span class="t" style="font-size:6.63px;transform:matrix(1,0.0005,0,1,147.00,356.80) translateX(-100%);">62</span>
<span class="t" style="font-size:6.63px;transform:matrix(1,0.0005,0,1,169.50,356.80) translateX(-100%);">15</span>
<span class="t" style="font-size:6.63px;transform:matrix(1,0.0005,0,1,185.00,356.80) translateX(-100%);">3.5</span>
<span class="t" style="font-size:6.63px;transform:matrix(1,0.0005,0,1,205.75,356.80) translateX(-100%);">307</span>
<span class="t" style="font-size:6.63px;transform:matrix(1,0.0005,0,1,233.25,356.80) translateX(-100%);">11.7%</span>
<span class="t" style="font-size:6.63px;transform:matrix(1,0.0005,0,1,293.75,356.80) translateX(-100%);">1.00 [-0.07, 2.07]</span>
<span class="t" style="font-size:6.63px;transform:matrix(1,0.0005,0,1,299.50,356.80);">2021</span>
<span class="t b" style="font-size:6.63px;transform:matrix(1,0.0005,0,1,18.50,374.33);">Total (95% CI)</span>
<span class="t b" style="font-size:6.63px;transform:matrix(1,0.0005,0,1,147.00,374.33) translateX(-100%);">528</span>
<span class="t b" style="font-size:6.63px;transform:matrix(1,0.0005,0,1,205.75,374.33) translateX(-100%);">5035</span>
<span class="t b" style="font-size:6.63px;transform:matrix(1,0.0005,0,1,233.25,374.33) translateX(-100%);">100.0%</span>
<span class="t b" style="font-size:6.63px;transform:matrix(1,0.0005,0,1,293.75,374.33) translateX(-100%);">1.71 [1.35, 2.08]</span>
<span class="t" style="font-size:6.63px;transform:matrix(1,0.0005,0,1,18.50,384.08);"><span style="letter-spacing:0.028px">Heterogeneity: Chi<span class="sup">2</span> = 22.05, df = 12 (P = 0.04); I<span class="sup">2</span> = 46%</span></span>
<span class="t" style="font-size:6.63px;transform:matrix(1,0.0005,0,1,18.50,393.08);"><span style="letter-spacing:0.05px">Test for overall effect: Z = 9.18 (P &lt; 0.00001)</span></span>
<span class="t" style="font-size:6.63px;transform:matrix(1,0.0005,0,1,319.50,388.58);">-20</span>
<span class="t" style="font-size:6.63px;transform:matrix(1,0.0005,0,1,358.65,388.58) translateX(-50%);">-10</span>
<span class="t" style="font-size:6.63px;transform:matrix(1,0.0005,0,1,397.50,388.58) translateX(-50%);">0</span>
<span class="t" style="font-size:6.63px;transform:matrix(1,0.0005,0,1,436.35,388.58) translateX(-50%);">10</span>
<span class="t" style="font-size:6.63px;transform:matrix(1,0.0005,0,1,475.50,388.58) translateX(-100%);">20</span>
<span class="t" style="font-size:6.63px;transform:matrix(1,0.0005,0,1,394.00,396.83) translateX(-100%);color:#444;">sICH</span>
<span class="t" style="font-size:6.63px;transform:matrix(1,0.0005,0,1,400.60,396.83);color:#444;">Non-sICH</span>
<span class="t b" style="font-size:8px;transform:matrix(1,0.0005,0,1,16.00,435.67);">c</span>
<span class="t b" style="font-size:7.1px;transform:matrix(1,0.0005,0,1,115.90,435.77) translateX(-50%);">sICH</span>
<span class="t b" style="font-size:7.1px;transform:matrix(1,0.0005,0,1,168.20,435.77) translateX(-50%);">Non-sICH</span>
<span class="t b" style="font-size:7.1px;transform:matrix(1,0.0005,0,1,19.10,444.87);">Study or Subgroup</span>
<span class="t b" style="font-size:7.1px;transform:matrix(1,0.0005,0,1,119.50,444.87) translateX(-100%);">Events</span>
<span class="t b" style="font-size:7.1px;transform:matrix(1,0.0005,0,1,141.25,444.87) translateX(-100%);">Total</span>
<span class="t b" style="font-size:7.1px;transform:matrix(1,0.0005,0,1,171.25,444.87) translateX(-100%);">Events</span>
<span class="t b" style="font-size:7.1px;transform:matrix(1,0.0005,0,1,193.75,444.87) translateX(-100%);">Total</span>
<span class="t b" style="font-size:7.1px;transform:matrix(1,0.0005,0,1,223.75,444.87) translateX(-100%);">Weight</span>
<span class="t b" style="font-size:7.1px;transform:matrix(1,0.0005,0,1,296.25,444.87) translateX(-100%);">M-H, Fixed, 95% CI</span>
<span class="t b" style="font-size:7.1px;transform:matrix(1,0.0005,0,1,299.25,444.87);">Year</span>
<span class="t b" style="font-size:7.1px;transform:matrix(1,0.0005,0,1,259.25,435.77) translateX(-50%);">Odds Ratio</span>
<span class="t b" style="font-size:7.1px;transform:matrix(1,0.0005,0,1,398.60,435.77) translateX(-50%);">Odds Ratio</span>
<span class="t b" style="font-size:7.1px;transform:matrix(1,0.0005,0,1,399.75,444.87) translateX(-50%);">M-H, Fixed, 95% CI</span>
<span class="t" style="font-size:7.1px;transform:matrix(1,0.0005,0,1,19.10,455.27);">Sébastien 2013</span>
<span class="t" style="font-size:7.1px;transform:matrix(1,0.0005,0,1,119.50,455.27) translateX(-100%);">0</span>
<span class="t" style="font-size:7.1px;transform:matrix(1,0.0005,0,1,141.25,455.27) translateX(-100%);">5</span>
<span class="t" style="font-size:7.1px;transform:matrix(1,0.0005,0,1,171.25,455.27) translateX(-100%);">5</span>
<span class="t" style="font-size:7.1px;transform:matrix(1,0.0005,0,1,193.75,455.27) translateX(-100%);">54</span>
<span class="t" style="font-size:7.1px;transform:matrix(1,0.0005,0,1,223.75,455.27) translateX(-100%);">0.8%</span>
<span class="t" style="font-size:7.1px;transform:matrix(1,0.0005,0,1,293.00,455.27) translateX(-100%);">0.82 [0.04, 16.87]</span>
<span class="t" style="font-size:7.1px;transform:matrix(1,0.0005,0,1,299.25,455.27);">2013</span>
<span class="t" style="font-size:7.1px;transform:matrix(1,0.0005,0,1,19.10,464.88);">Kim 2015</span>
<span class="t" style="font-size:7.1px;transform:matrix(1,0.0005,0,1,119.50,464.88) translateX(-100%);">5</span>
<span class="t" style="font-size:7.1px;transform:matrix(1,0.0005,0,1,141.25,464.88) translateX(-100%);">14</span>
<span class="t" style="font-size:7.1px;transform:matrix(1,0.0005,0,1,171.25,464.88) translateX(-100%);">8</span>
<span class="t" style="font-size:7.1px;transform:matrix(1,0.0005,0,1,193.75,464.88) translateX(-100%);">42</span>
<span class="t" style="font-size:7.1px;transform:matrix(1,0.0005,0,1,223.75,464.88) translateX(-100%);">2.0%</span>
<span class="t" style="font-size:7.1px;transform:matrix(1,0.0005,0,1,293.00,464.88) translateX(-100%);">2.36 [0.62, 8.99]</span>
<span class="t" style="font-size:7.1px;transform:matrix(1,0.0005,0,1,299.25,464.88);">2015</span>
<span class="t" style="font-size:7.1px;transform:matrix(1,0.0005,0,1,19.10,474.48);">Jiang 2015</span>
<span class="t" style="font-size:7.1px;transform:matrix(1,0.0005,0,1,119.50,474.48) translateX(-100%);">5</span>
<span class="t" style="font-size:7.1px;transform:matrix(1,0.0005,0,1,141.25,474.48) translateX(-100%);">11</span>
<span class="t" style="font-size:7.1px;transform:matrix(1,0.0005,0,1,171.25,474.48) translateX(-100%);">8</span>
<span class="t" style="font-size:7.1px;transform:matrix(1,0.0005,0,1,193.75,474.48) translateX(-100%);">78</span>
<span class="t" style="font-size:7.1px;transform:matrix(1,0.0005,0,1,223.75,474.48) translateX(-100%);">0.8%</span>
<span class="t" style="font-size:7.1px;transform:matrix(1,0.0005,0,1,293.00,474.48) translateX(-100%);">7.29 [1.81, 29.40]</span>
<span class="t" style="font-size:7.1px;transform:matrix(1,0.0005,0,1,299.25,474.48);">2015</span>
<span class="t" style="font-size:7.1px;transform:matrix(1,0.0005,0,1,19.10,484.09);">Kass-Hout  2016</span>
<span class="t" style="font-size:7.1px;transform:matrix(1,0.0005,0,1,119.50,484.09) translateX(-100%);">6</span>
<span class="t" style="font-size:7.1px;transform:matrix(1,0.0005,0,1,141.25,484.09) translateX(-100%);">17</span>
<span class="t" style="font-size:7.1px;transform:matrix(1,0.0005,0,1,171.25,484.09) translateX(-100%);">66</span>
<span class="t" style="font-size:7.1px;transform:matrix(1,0.0005,0,1,193.75,484.09) translateX(-100%);">225</span>
<span class="t" style="font-size:7.1px;transform:matrix(1,0.0005,0,1,223.75,484.09) translateX(-100%);">4.6%</span>
<span class="t" style="font-size:7.1px;transform:matrix(1,0.0005,0,1,293.00,484.09) translateX(-100%);">1.31 [0.47, 3.70]</span>
<span class="t" style="font-size:7.1px;transform:matrix(1,0.0005,0,1,299.25,484.09);">2016</span>
<span class="t" style="font-size:7.1px;transform:matrix(1,0.0005,0,1,19.10,493.70);">Hao 2017</span>
<span class="t" style="font-size:7.1px;transform:matrix(1,0.0005,0,1,119.50,493.70) translateX(-100%);">18</span>
<span class="t" style="font-size:7.1px;transform:matrix(1,0.0005,0,1,141.25,493.70) translateX(-100%);">101</span>
<span class="t" style="font-size:7.1px;transform:matrix(1,0.0005,0,1,171.25,493.70) translateX(-100%);">96</span>
<span class="t" style="font-size:7.1px;transform:matrix(1,0.0005,0,1,193.75,493.70) translateX(-100%);">531</span>
<span class="t" style="font-size:7.1px;transform:matrix(1,0.0005,0,1,223.75,493.70) translateX(-100%);">19.3%</span>
<span class="t" style="font-size:7.1px;transform:matrix(1,0.0005,0,1,293.00,493.70) translateX(-100%);">0.98 [0.56, 1.71]</span>
<span class="t" style="font-size:7.1px;transform:matrix(1,0.0005,0,1,299.25,493.70);">2017</span>
<span class="t" style="font-size:7.1px;transform:matrix(1,0.0005,0,1,19.10,503.30);">Huang  2019</span>
<span class="t" style="font-size:7.1px;transform:matrix(1,0.0005,0,1,119.50,503.30) translateX(-100%);">4</span>
<span class="t" style="font-size:7.1px;transform:matrix(1,0.0005,0,1,141.25,503.30) translateX(-100%);">18</span>
<span class="t" style="font-size:7.1px;transform:matrix(1,0.0005,0,1,171.25,503.30) translateX(-100%);">40</span>
<span class="t" style="font-size:7.1px;transform:matrix(1,0.0005,0,1,193.75,503.30) translateX(-100%);">209</span>
<span class="t" style="font-size:7.1px;transform:matrix(1,0.0005,0,1,223.75,503.30) translateX(-100%);">3.8%</span>
<span class="t" style="font-size:7.1px;transform:matrix(1,0.0005,0,1,293.00,503.30) translateX(-100%);">1.21 [0.38, 3.86]</span>
<span class="t" style="font-size:7.1px;transform:matrix(1,0.0005,0,1,299.25,503.30);">2019</span>
<span class="t" style="font-size:7.1px;transform:matrix(1,0.0005,0,1,19.10,512.91);">Kim  2019</span>
<span class="t" style="font-size:7.1px;transform:matrix(1,0.0005,0,1,119.50,512.91) translateX(-100%);">7</span>
<span class="t" style="font-size:7.1px;transform:matrix(1,0.0005,0,1,141.25,512.91) translateX(-100%);">20</span>
<span class="t" style="font-size:7.1px;transform:matrix(1,0.0005,0,1,171.25,512.91) translateX(-100%);">48</span>
<span class="t" style="font-size:7.1px;transform:matrix(1,0.0005,0,1,193.75,512.91) translateX(-100%);">191</span>
<span class="t" style="font-size:7.1px;transform:matrix(1,0.0005,0,1,223.75,512.91) translateX(-100%);">4.5%</span>
<span class="t" style="font-size:7.1px;transform:matrix(1,0.0005,0,1,293.00,512.91) translateX(-100%);">1.60 [0.60, 4.25]</span>
<span class="t" style="font-size:7.1px;transform:matrix(1,0.0005,0,1,299.25,512.91);">2019</span>
<span class="t" style="font-size:7.1px;transform:matrix(1,0.0005,0,1,19.10,522.52);">Neuberger  2019</span>
<span class="t" style="font-size:7.1px;transform:matrix(1,0.0005,0,1,119.50,522.52) translateX(-100%);">7</span>
<span class="t" style="font-size:7.1px;transform:matrix(1,0.0005,0,1,141.25,522.52) translateX(-100%);">27</span>
<span class="t" style="font-size:7.1px;transform:matrix(1,0.0005,0,1,171.25,522.52) translateX(-100%);">129</span>
<span class="t" style="font-size:7.1px;transform:matrix(1,0.0005,0,1,193.75,522.52) translateX(-100%);">585</span>
<span class="t" style="font-size:7.1px;transform:matrix(1,0.0005,0,1,223.75,522.52) translateX(-100%);">6.5%</span>
<span class="t" style="font-size:7.1px;transform:matrix(1,0.0005,0,1,293.00,522.52) translateX(-100%);">1.24 [0.51, 2.99]</span>
<span class="t" style="font-size:7.1px;transform:matrix(1,0.0005,0,1,299.25,522.52);">2019</span>
<span class="t" style="font-size:7.1px;transform:matrix(1,0.0005,0,1,19.10,532.13);">Desai 2019</span>
<span class="t" style="font-size:7.1px;transform:matrix(1,0.0005,0,1,119.50,532.13) translateX(-100%);">9</span>
<span class="t" style="font-size:7.1px;transform:matrix(1,0.0005,0,1,141.25,532.13) translateX(-100%);">31</span>
<span class="t" style="font-size:7.1px;transform:matrix(1,0.0005,0,1,171.25,532.13) translateX(-100%);">129</span>
<span class="t" style="font-size:7.1px;transform:matrix(1,0.0005,0,1,193.75,532.13) translateX(-100%);">497</span>
<span class="t" style="font-size:7.1px;transform:matrix(1,0.0005,0,1,223.75,532.13) translateX(-100%);">8.2%</span>
<span class="t" style="font-size:7.1px;transform:matrix(1,0.0005,0,1,293.00,532.13) translateX(-100%);">1.17 [0.52, 2.60]</span>
<span class="t" style="font-size:7.1px;transform:matrix(1,0.0005,0,1,299.25,532.13);">2019</span>
<span class="t" style="font-size:7.1px;transform:matrix(1,0.0005,0,1,19.10,541.73);">Li 2020</span>
<span class="t" style="font-size:7.1px;transform:matrix(1,0.0005,0,1,119.50,541.73) translateX(-100%);">7</span>
<span class="t" style="font-size:7.1px;transform:matrix(1,0.0005,0,1,141.25,541.73) translateX(-100%);">15</span>
<span class="t" style="font-size:7.1px;transform:matrix(1,0.0005,0,1,171.25,541.73) translateX(-100%);">38</span>
<span class="t" style="font-size:7.1px;transform:matrix(1,0.0005,0,1,193.75,541.73) translateX(-100%);">141</span>
<span class="t" style="font-size:7.1px;transform:matrix(1,0.0005,0,1,223.75,541.73) translateX(-100%);">3.0%</span>
<span class="t" style="font-size:7.1px;transform:matrix(1,0.0005,0,1,293.00,541.73) translateX(-100%);">2.37 [0.81, 6.99]</span>
<span class="t" style="font-size:7.1px;transform:matrix(1,0.0005,0,1,299.25,541.73);">2020</span>
<span class="t" style="font-size:7.1px;transform:matrix(1,0.0005,0,1,19.10,551.34);">Zhang 2020</span>
<span class="t" style="font-size:7.1px;transform:matrix(1,0.0005,0,1,119.50,551.34) translateX(-100%);">17</span>
<span class="t" style="font-size:7.1px;transform:matrix(1,0.0005,0,1,141.25,551.34) translateX(-100%);">87</span>
<span class="t" style="font-size:7.1px;transform:matrix(1,0.0005,0,1,171.25,551.34) translateX(-100%);">97</span>
<span class="t" style="font-size:7.1px;transform:matrix(1,0.0005,0,1,193.75,551.34) translateX(-100%);">542</span>
<span class="t" style="font-size:7.1px;transform:matrix(1,0.0005,0,1,223.75,551.34) translateX(-100%);">16.5%</span>
<span class="t" style="font-size:7.1px;transform:matrix(1,0.0005,0,1,293.00,551.34) translateX(-100%);">1.11 [0.63, 1.98]</span>
<span class="t" style="font-size:7.1px;transform:matrix(1,0.0005,0,1,299.25,551.34);">2020</span>
<span class="t" style="font-size:7.1px;transform:matrix(1,0.0005,0,1,19.10,560.95);">Kim 2021</span>
<span class="t" style="font-size:7.1px;transform:matrix(1,0.0005,0,1,119.50,560.95) translateX(-100%);">5</span>
<span class="t" style="font-size:7.1px;transform:matrix(1,0.0005,0,1,141.25,560.95) translateX(-100%);">16</span>
<span class="t" style="font-size:7.1px;transform:matrix(1,0.0005,0,1,171.25,560.95) translateX(-100%);">47</span>
<span class="t" style="font-size:7.1px;transform:matrix(1,0.0005,0,1,193.75,560.95) translateX(-100%);">160</span>
<span class="t" style="font-size:7.1px;transform:matrix(1,0.0005,0,1,223.75,560.95) translateX(-100%);">4.5%</span>
<span class="t" style="font-size:7.1px;transform:matrix(1,0.0005,0,1,293.00,560.95) translateX(-100%);">1.09 [0.36, 3.32]</span>
<span class="t" style="font-size:7.1px;transform:matrix(1,0.0005,0,1,299.25,560.95);">2021</span>
<span class="t" style="font-size:7.1px;transform:matrix(1,0.0005,0,1,19.10,570.55);">Yu  2021</span>
<span class="t" style="font-size:7.1px;transform:matrix(1,0.0005,0,1,119.50,570.55) translateX(-100%);">2</span>
<span class="t" style="font-size:7.1px;transform:matrix(1,0.0005,0,1,141.25,570.55) translateX(-100%);">15</span>
<span class="t" style="font-size:7.1px;transform:matrix(1,0.0005,0,1,171.25,570.55) translateX(-100%);">18</span>
<span class="t" style="font-size:7.1px;transform:matrix(1,0.0005,0,1,193.75,570.55) translateX(-100%);">87</span>
<span class="t" style="font-size:7.1px;transform:matrix(1,0.0005,0,1,223.75,570.55) translateX(-100%);">3.5%</span>
<span class="t" style="font-size:7.1px;transform:matrix(1,0.0005,0,1,293.00,570.55) translateX(-100%);">0.59 [0.12, 2.85]</span>
<span class="t" style="font-size:7.1px;transform:matrix(1,0.0005,0,1,299.25,570.55);">2021</span>
<span class="t" style="font-size:7.1px;transform:matrix(1,0.0005,0,1,19.10,580.16);">Venditti 2021</span>
<span class="t" style="font-size:7.1px;transform:matrix(1,0.0005,0,1,119.50,580.16) translateX(-100%);">10</span>
<span class="t" style="font-size:7.1px;transform:matrix(1,0.0005,0,1,141.25,580.16) translateX(-100%);">55</span>
<span class="t" style="font-size:7.1px;transform:matrix(1,0.0005,0,1,171.25,580.16) translateX(-100%);">99</span>
<span class="t" style="font-size:7.1px;transform:matrix(1,0.0005,0,1,193.75,580.16) translateX(-100%);">582</span>
<span class="t" style="font-size:7.1px;transform:matrix(1,0.0005,0,1,223.75,580.16) translateX(-100%);">10.7%</span>
<span class="t" style="font-size:7.1px;transform:matrix(1,0.0005,0,1,293.00,580.16) translateX(-100%);">1.08 [0.53, 2.22]</span>
<span class="t" style="font-size:7.1px;transform:matrix(1,0.0005,0,1,299.25,580.16);">2021</span>
<span class="t" style="font-size:7.1px;transform:matrix(1,0.0005,0,1,19.10,589.77);">Shen 2021</span>
<span class="t" style="font-size:7.1px;transform:matrix(1,0.0005,0,1,119.50,589.77) translateX(-100%);">28</span>
<span class="t" style="font-size:7.1px;transform:matrix(1,0.0005,0,1,141.25,589.77) translateX(-100%);">62</span>
<span class="t" style="font-size:7.1px;transform:matrix(1,0.0005,0,1,171.25,589.77) translateX(-100%);">80</span>
<span class="t" style="font-size:7.1px;transform:matrix(1,0.0005,0,1,193.75,589.77) translateX(-100%);">307</span>
<span class="t" style="font-size:7.1px;transform:matrix(1,0.0005,0,1,223.75,589.77) translateX(-100%);">11.3%</span>
<span class="t" style="font-size:7.1px;transform:matrix(1,0.0005,0,1,293.00,589.77) translateX(-100%);">2.34 [1.33, 4.10]</span>
<span class="t" style="font-size:7.1px;transform:matrix(1,0.0005,0,1,299.25,589.77);">2021</span>
<span class="t b" style="font-size:7.1px;transform:matrix(1,0.0005,0,1,19.10,608.17);">Total (95% CI)</span>
<span class="t b" style="font-size:7.1px;transform:matrix(1,0.0005,0,1,141.25,608.17) translateX(-100%);">494</span>
<span class="t b" style="font-size:7.1px;transform:matrix(1,0.0005,0,1,193.75,608.17) translateX(-100%);">4231</span>
<span class="t b" style="font-size:7.1px;transform:matrix(1,0.0005,0,1,223.75,608.17) translateX(-100%);">100.0%</span>
<span class="t b" style="font-size:7.1px;transform:matrix(1,0.0005,0,1,293.00,608.17) translateX(-100%);">1.36 [1.10, 1.69]</span>
<span class="t" style="font-size:7.1px;transform:matrix(1,0.0005,0,1,19.10,618.52);">Total events</span>
<span class="t" style="font-size:7.1px;transform:matrix(1,0.0005,0,1,119.00,618.52) translateX(-100%);">130</span>
<span class="t" style="font-size:7.1px;transform:matrix(1,0.0005,0,1,171.25,618.52) translateX(-100%);">908</span>
<span class="t" style="font-size:7.1px;transform:matrix(1,0.0005,0,1,19.10,628.27);"><span style="letter-spacing:0.036px">Heterogeneity: Chi<span class="sup">2</span> = 14.65, df = 14 (P = 0.40); I<span class="sup">2</span> = 4%</span></span>
<span class="t" style="font-size:7.1px;transform:matrix(1,0.0005,0,1,19.10,637.77);"><span style="letter-spacing:0.046px">Test for overall effect: Z = 2.78 (P = 0.005)</span></span>
<span class="t" style="font-size:7.1px;transform:matrix(1,0.0005,0,1,320.50,632.87);">0.01</span>
<span class="t" style="font-size:7.1px;transform:matrix(1,0.0005,0,1,359.50,632.87) translateX(-50%);">0.1</span>
<span class="t" style="font-size:7.1px;transform:matrix(1,0.0005,0,1,398.20,632.87) translateX(-50%);">1</span>
<span class="t" style="font-size:7.1px;transform:matrix(1,0.0005,0,1,436.90,632.87) translateX(-50%);">10</span>
<span class="t" style="font-size:7.1px;transform:matrix(1,0.0005,0,1,475.90,632.87) translateX(-100%);">100</span>
<span class="t" style="font-size:7.1px;transform:matrix(1,0.0005,0,1,394.00,641.77) translateX(-100%);color:#444;">sICH</span>
<span class="t" style="font-size:7.1px;transform:matrix(1,0.0005,0,1,401.50,641.77);color:#444;">Non-sICH</span>
<span class="t b" style="font-size:8px;transform:matrix(1,0.0005,0,1,16.00,661.17);">d</span>
<span class="t b" style="font-size:6.63px;transform:matrix(1,0.0005,0,1,114.90,662.68) translateX(-50%);">sICH</span>
<span class="t b" style="font-size:6.63px;transform:matrix(1,0.0005,0,1,177.00,662.68) translateX(-50%);">Non-sICH</span>
<span class="t b" style="font-size:6.63px;transform:matrix(1,0.0005,0,1,18.75,671.83);">Study or Subgroup</span>
<span class="t b" style="font-size:6.63px;transform:matrix(1,0.0005,0,1,106.25,671.83) translateX(-100%);">Mean</span>
<span class="t b" style="font-size:6.63px;transform:matrix(1,0.0005,0,1,125.00,671.83) translateX(-100%);">SD</span>
<span class="t b" style="font-size:6.63px;transform:matrix(1,0.0005,0,1,145.50,671.83) translateX(-100%);">Total</span>
<span class="t b" style="font-size:6.63px;transform:matrix(1,0.0005,0,1,167.50,671.83) translateX(-100%);">Mean</span>
<span class="t b" style="font-size:6.63px;transform:matrix(1,0.0005,0,1,186.25,671.83) translateX(-100%);">SD</span>
<span class="t b" style="font-size:6.63px;transform:matrix(1,0.0005,0,1,207.50,671.83) translateX(-100%);">Total</span>
<span class="t b" style="font-size:6.63px;transform:matrix(1,0.0005,0,1,235.00,671.83) translateX(-100%);">Weight</span>
<span class="t b" style="font-size:6.63px;transform:matrix(1,0.0005,0,1,302.50,671.83) translateX(-100%);">IV, Fixed, 95% CI</span>
<span class="t b" style="font-size:6.63px;transform:matrix(1,0.0005,0,1,305.75,671.83);">Year</span>
<span class="t b" style="font-size:6.63px;transform:matrix(1,0.0005,0,1,267.50,662.68) translateX(-50%);">Mean Difference</span>
<span class="t b" style="font-size:6.63px;transform:matrix(1,0.0005,0,1,400.60,662.68) translateX(-50%);">Mean Difference</span>
<span class="t b" style="font-size:6.63px;transform:matrix(1,0.0005,0,1,402.60,671.83) translateX(-50%);">IV, Fixed, 95% CI</span>
<span class="t" style="font-size:6.63px;transform:matrix(1,0.0005,0,1,18.75,681.58);">Kim 2015</span>
<span class="t" style="font-size:6.63px;transform:matrix(1,0.0005,0,1,106.25,681.58) translateX(-100%);">133</span>
<span class="t" style="font-size:6.63px;transform:matrix(1,0.0005,0,1,125.00,681.58) translateX(-100%);">26</span>
<span class="t" style="font-size:6.63px;transform:matrix(1,0.0005,0,1,145.50,681.58) translateX(-100%);">14</span>
<span class="t" style="font-size:6.63px;transform:matrix(1,0.0005,0,1,167.50,681.58) translateX(-100%);">145</span>
<span class="t" style="font-size:6.63px;transform:matrix(1,0.0005,0,1,186.25,681.58) translateX(-100%);">22</span>
<span class="t" style="font-size:6.63px;transform:matrix(1,0.0005,0,1,207.50,681.58) translateX(-100%);">42</span>
<span class="t" style="font-size:6.63px;transform:matrix(1,0.0005,0,1,235.00,681.58) translateX(-100%);">2.3%</span>
<span class="t" style="font-size:6.63px;transform:matrix(1,0.0005,0,1,300.00,681.58) translateX(-100%);">-12.00 [-27.16, 3.16]</span>
<span class="t" style="font-size:6.63px;transform:matrix(1,0.0005,0,1,305.75,681.58);">2015</span>
<span class="t" style="font-size:6.63px;transform:matrix(1,0.0005,0,1,18.75,690.40);">Hao 2017</span>
<span class="t" style="font-size:6.63px;transform:matrix(1,0.0005,0,1,106.25,690.40) translateX(-100%);">150</span>
<span class="t" style="font-size:6.63px;transform:matrix(1,0.0005,0,1,125.00,690.40) translateX(-100%);">15</span>
<span class="t" style="font-size:6.63px;transform:matrix(1,0.0005,0,1,145.50,690.40) translateX(-100%);">101</span>
<span class="t" style="font-size:6.63px;transform:matrix(1,0.0005,0,1,167.50,690.40) translateX(-100%);">142</span>
<span class="t" style="font-size:6.63px;transform:matrix(1,0.0005,0,1,186.25,690.40) translateX(-100%);">15.5</span>
<span class="t" style="font-size:6.63px;transform:matrix(1,0.0005,0,1,207.50,690.40) translateX(-100%);">531</span>
<span class="t" style="font-size:6.63px;transform:matrix(1,0.0005,0,1,235.00,690.40) translateX(-100%);">50.9%</span>
<span class="t" style="font-size:6.63px;transform:matrix(1,0.0005,0,1,300.00,690.40) translateX(-100%);">8.00 [4.79, 11.21]</span>
<span class="t" style="font-size:6.63px;transform:matrix(1,0.0005,0,1,305.75,690.40);">2017</span>
<span class="t" style="font-size:6.63px;transform:matrix(1,0.0005,0,1,18.75,699.22);">Sugiura 2017</span>
<span class="t" style="font-size:6.63px;transform:matrix(1,0.0005,0,1,106.25,699.22) translateX(-100%);">146.6</span>
<span class="t" style="font-size:6.63px;transform:matrix(1,0.0005,0,1,125.00,699.22) translateX(-100%);">27.5</span>
<span class="t" style="font-size:6.63px;transform:matrix(1,0.0005,0,1,145.50,699.22) translateX(-100%);">10</span>
<span class="t" style="font-size:6.63px;transform:matrix(1,0.0005,0,1,167.50,699.22) translateX(-100%);">152.8</span>
<span class="t" style="font-size:6.63px;transform:matrix(1,0.0005,0,1,186.25,699.22) translateX(-100%);">30.3</span>
<span class="t" style="font-size:6.63px;transform:matrix(1,0.0005,0,1,207.50,699.22) translateX(-100%);">194</span>
<span class="t" style="font-size:6.63px;transform:matrix(1,0.0005,0,1,235.00,699.22) translateX(-100%);">1.7%</span>
<span class="t" style="font-size:6.63px;transform:matrix(1,0.0005,0,1,300.00,699.22) translateX(-100%);">-6.20 [-23.77, 11.37]</span>
<span class="t" style="font-size:6.63px;transform:matrix(1,0.0005,0,1,305.75,699.22);">2017</span>
<span class="t" style="font-size:6.63px;transform:matrix(1,0.0005,0,1,18.75,708.04);">Huang  2019</span>
<span class="t" style="font-size:6.63px;transform:matrix(1,0.0005,0,1,106.25,708.04) translateX(-100%);">145</span>
<span class="t" style="font-size:6.63px;transform:matrix(1,0.0005,0,1,125.00,708.04) translateX(-100%);">21</span>
<span class="t" style="font-size:6.63px;transform:matrix(1,0.0005,0,1,145.50,708.04) translateX(-100%);">27</span>
<span class="t" style="font-size:6.63px;transform:matrix(1,0.0005,0,1,167.50,708.04) translateX(-100%);">138</span>
<span class="t" style="font-size:6.63px;transform:matrix(1,0.0005,0,1,186.25,708.04) translateX(-100%);">16.5</span>
<span class="t" style="font-size:6.63px;transform:matrix(1,0.0005,0,1,207.50,708.04) translateX(-100%);">256</span>
<span class="t" style="font-size:6.63px;transform:matrix(1,0.0005,0,1,235.00,708.04) translateX(-100%);">7.8%</span>
<span class="t" style="font-size:6.63px;transform:matrix(1,0.0005,0,1,300.00,708.04) translateX(-100%);">7.00 [-1.17, 15.17]</span>
<span class="t" style="font-size:6.63px;transform:matrix(1,0.0005,0,1,305.75,708.04);">2019</span>
<span class="t" style="font-size:6.63px;transform:matrix(1,0.0005,0,1,18.75,717.26);">Neuberger  2019</span>
<span class="t" style="font-size:6.63px;transform:matrix(1,0.0005,0,1,106.25,717.26) translateX(-100%);">153.5</span>
<span class="t" style="font-size:6.63px;transform:matrix(1,0.0005,0,1,125.00,717.26) translateX(-100%);">19.4</span>
<span class="t" style="font-size:6.63px;transform:matrix(1,0.0005,0,1,145.50,717.26) translateX(-100%);">27</span>
<span class="t" style="font-size:6.63px;transform:matrix(1,0.0005,0,1,167.50,717.26) translateX(-100%);">159.3</span>
<span class="t" style="font-size:6.63px;transform:matrix(1,0.0005,0,1,186.25,717.26) translateX(-100%);">2.6</span>
<span class="t" style="font-size:6.63px;transform:matrix(1,0.0005,0,1,207.50,717.26) translateX(-100%);">585</span>
<span class="t" style="font-size:6.63px;transform:matrix(1,0.0005,0,1,235.00,717.26) translateX(-100%);">0.0%</span>
<span class="t" style="font-size:6.63px;transform:matrix(1,0.0005,0,1,300.00,717.26) translateX(-100%);">-5.80 [-13.12, 1.52]</span>
<span class="t" style="font-size:6.63px;transform:matrix(1,0.0005,0,1,305.75,717.26);">2019</span>
<span class="t" style="font-size:6.63px;transform:matrix(1,0.0005,0,1,18.75,726.08);">Zhang 2020</span>
<span class="t" style="font-size:6.63px;transform:matrix(1,0.0005,0,1,106.25,726.08) translateX(-100%);">86</span>
<span class="t" style="font-size:6.63px;transform:matrix(1,0.0005,0,1,125.00,726.08) translateX(-100%);">14.6</span>
<span class="t" style="font-size:6.63px;transform:matrix(1,0.0005,0,1,145.50,726.08) translateX(-100%);">87</span>
<span class="t" style="font-size:6.63px;transform:matrix(1,0.0005,0,1,167.50,726.08) translateX(-100%);">145.5</span>
<span class="t" style="font-size:6.63px;transform:matrix(1,0.0005,0,1,186.25,726.08) translateX(-100%);">26</span>
<span class="t" style="font-size:6.63px;transform:matrix(1,0.0005,0,1,207.50,726.08) translateX(-100%);">542</span>
<span class="t" style="font-size:6.63px;transform:matrix(1,0.0005,0,1,300.00,726.08) translateX(-100%);">Not estimable</span>
<span class="t" style="font-size:6.63px;transform:matrix(1,0.0005,0,1,305.75,726.08);">2020</span>
<span class="t" style="font-size:6.63px;transform:matrix(1,0.0005,0,1,18.75,734.90);">Li 2020</span>
<span class="t" style="font-size:6.63px;transform:matrix(1,0.0005,0,1,106.25,734.90) translateX(-100%);">142</span>
<span class="t" style="font-size:6.63px;transform:matrix(1,0.0005,0,1,125.00,734.90) translateX(-100%);">28</span>
<span class="t" style="font-size:6.63px;transform:matrix(1,0.0005,0,1,145.50,734.90) translateX(-100%);">15</span>
<span class="t" style="font-size:6.63px;transform:matrix(1,0.0005,0,1,167.50,734.90) translateX(-100%);">141</span>
<span class="t" style="font-size:6.63px;transform:matrix(1,0.0005,0,1,186.25,734.90) translateX(-100%);">23.5</span>
<span class="t" style="font-size:6.63px;transform:matrix(1,0.0005,0,1,207.50,734.90) translateX(-100%);">141</span>
<span class="t" style="font-size:6.63px;transform:matrix(1,0.0005,0,1,235.00,734.90) translateX(-100%);">2.4%</span>
<span class="t" style="font-size:6.63px;transform:matrix(1,0.0005,0,1,300.00,734.90) translateX(-100%);">1.00 [-13.69, 15.69]</span>
<span class="t" style="font-size:6.63px;transform:matrix(1,0.0005,0,1,305.75,734.90);">2020</span>
<span class="t" style="font-size:6.63px;transform:matrix(1,0.0005,0,1,18.75,744.02);">Venditti 2021</span>
<span class="t" style="font-size:6.63px;transform:matrix(1,0.0005,0,1,106.25,744.02) translateX(-100%);">157</span>
<span class="t" style="font-size:6.63px;transform:matrix(1,0.0005,0,1,125.00,744.02) translateX(-100%);">28</span>
<span class="t" style="font-size:6.63px;transform:matrix(1,0.0005,0,1,145.50,744.02) translateX(-100%);">55</span>
<span class="t" style="font-size:6.63px;transform:matrix(1,0.0005,0,1,167.50,744.02) translateX(-100%);">149</span>
<span class="t" style="font-size:6.63px;transform:matrix(1,0.0005,0,1,186.25,744.02) translateX(-100%);">23</span>
<span class="t" style="font-size:6.63px;transform:matrix(1,0.0005,0,1,207.50,744.02) translateX(-100%);">582</span>
<span class="t" style="font-size:6.63px;transform:matrix(1,0.0005,0,1,235.00,744.02) translateX(-100%);">9.0%</span>
<span class="t" style="font-size:6.63px;transform:matrix(1,0.0005,0,1,300.00,744.02) translateX(-100%);">8.00 [0.37, 15.63]</span>
<span class="t" style="font-size:6.63px;transform:matrix(1,0.0005,0,1,305.75,744.02);">2021</span>
<span class="t" style="font-size:6.63px;transform:matrix(1,0.0005,0,1,18.75,752.14);">Shen 2021</span>
<span class="t" style="font-size:6.63px;transform:matrix(1,0.0005,0,1,106.25,752.14) translateX(-100%);">159</span>
<span class="t" style="font-size:6.63px;transform:matrix(1,0.0005,0,1,125.00,752.14) translateX(-100%);">17.5</span>
<span class="t" style="font-size:6.63px;transform:matrix(1,0.0005,0,1,145.50,752.14) translateX(-100%);">62</span>
<span class="t" style="font-size:6.63px;transform:matrix(1,0.0005,0,1,167.50,752.14) translateX(-100%);">150</span>
<span class="t" style="font-size:6.63px;transform:matrix(1,0.0005,0,1,186.25,752.14) translateX(-100%);">15</span>
<span class="t" style="font-size:6.63px;transform:matrix(1,0.0005,0,1,207.50,752.14) translateX(-100%);">307</span>
<span class="t" style="font-size:6.63px;transform:matrix(1,0.0005,0,1,235.00,752.14) translateX(-100%);">24.0%</span>
<span class="t" style="font-size:6.63px;transform:matrix(1,0.0005,0,1,300.00,752.14) translateX(-100%);">9.00 [4.33, 13.67]</span>
<span class="t" style="font-size:6.63px;transform:matrix(1,0.0005,0,1,305.75,752.14);">2021</span>
<span class="t" style="font-size:6.63px;transform:matrix(1,0.0005,0,1,18.75,760.96);">Kim 2021</span>
<span class="t" style="font-size:6.63px;transform:matrix(1,0.0005,0,1,106.25,760.96) translateX(-100%);">178.3</span>
<span class="t" style="font-size:6.63px;transform:matrix(1,0.0005,0,1,125.00,760.96) translateX(-100%);">32.9</span>
<span class="t" style="font-size:6.63px;transform:matrix(1,0.0005,0,1,145.50,760.96) translateX(-100%);">16</span>
<span class="t" style="font-size:6.63px;transform:matrix(1,0.0005,0,1,167.50,760.96) translateX(-100%);">164.5</span>
<span class="t" style="font-size:6.63px;transform:matrix(1,0.0005,0,1,186.25,760.96) translateX(-100%);">30.5</span>
<span class="t" style="font-size:6.63px;transform:matrix(1,0.0005,0,1,207.50,760.96) translateX(-100%);">160</span>
<span class="t" style="font-size:6.63px;transform:matrix(1,0.0005,0,1,235.00,760.96) translateX(-100%);">1.9%</span>
<span class="t" style="font-size:6.63px;transform:matrix(1,0.0005,0,1,300.00,760.96) translateX(-100%);">13.80 [-3.00, 30.60]</span>
<span class="t" style="font-size:6.63px;transform:matrix(1,0.0005,0,1,305.75,760.96);">2021</span>
<span class="t b" style="font-size:6.63px;transform:matrix(1,0.0005,0,1,18.75,777.33);">Total (95% CI)</span>
<span class="t b" style="font-size:6.63px;transform:matrix(1,0.0005,0,1,145.50,777.33) translateX(-100%);">300</span>
<span class="t b" style="font-size:6.63px;transform:matrix(1,0.0005,0,1,207.50,777.33) translateX(-100%);">2213</span>
<span class="t b" style="font-size:6.63px;transform:matrix(1,0.0005,0,1,235.00,777.33) translateX(-100%);">100.0%</span>
<span class="t b" style="font-size:6.63px;transform:matrix(1,0.0005,0,1,300.00,777.33) translateX(-100%);">7.40 [5.11, 9.69]</span>
<span class="t" style="font-size:6.63px;transform:matrix(1,0.0005,0,1,18.75,787.08);">Heterogeneity: Chi<span class="sup">2</span> = 10.50, df = 7 (P = 0.16); I<span class="sup">2</span> = 33%</span>
<span class="t" style="font-size:6.63px;transform:matrix(1,0.0005,0,1,18.75,796.08);"><span style="letter-spacing:0.038px">Test for overall effect: Z = 6.34 (P &lt; 0.00001)</span></span>
<span class="t" style="font-size:6.63px;transform:matrix(1,0.0005,0,1,325.75,791.58);">-50</span>
<span class="t" style="font-size:6.63px;transform:matrix(1,0.0005,0,1,363.47,791.58) translateX(-50%);">-25</span>
<span class="t" style="font-size:6.63px;transform:matrix(1,0.0005,0,1,400.90,791.58) translateX(-50%);">0</span>
<span class="t" style="font-size:6.63px;transform:matrix(1,0.0005,0,1,438.32,791.58) translateX(-50%);">25</span>
<span class="t" style="font-size:6.63px;transform:matrix(1,0.0005,0,1,476.05,791.58) translateX(-100%);">50</span>
<span class="t" style="font-size:6.63px;transform:matrix(1,0.0005,0,1,397.10,799.58) translateX(-100%);color:#444;">sICH</span>
<span class="t" style="font-size:6.63px;transform:matrix(1,0.0005,0,1,403.80,799.58);color:#444;">Non-sICH</span>
</div>
</body>
</html>
